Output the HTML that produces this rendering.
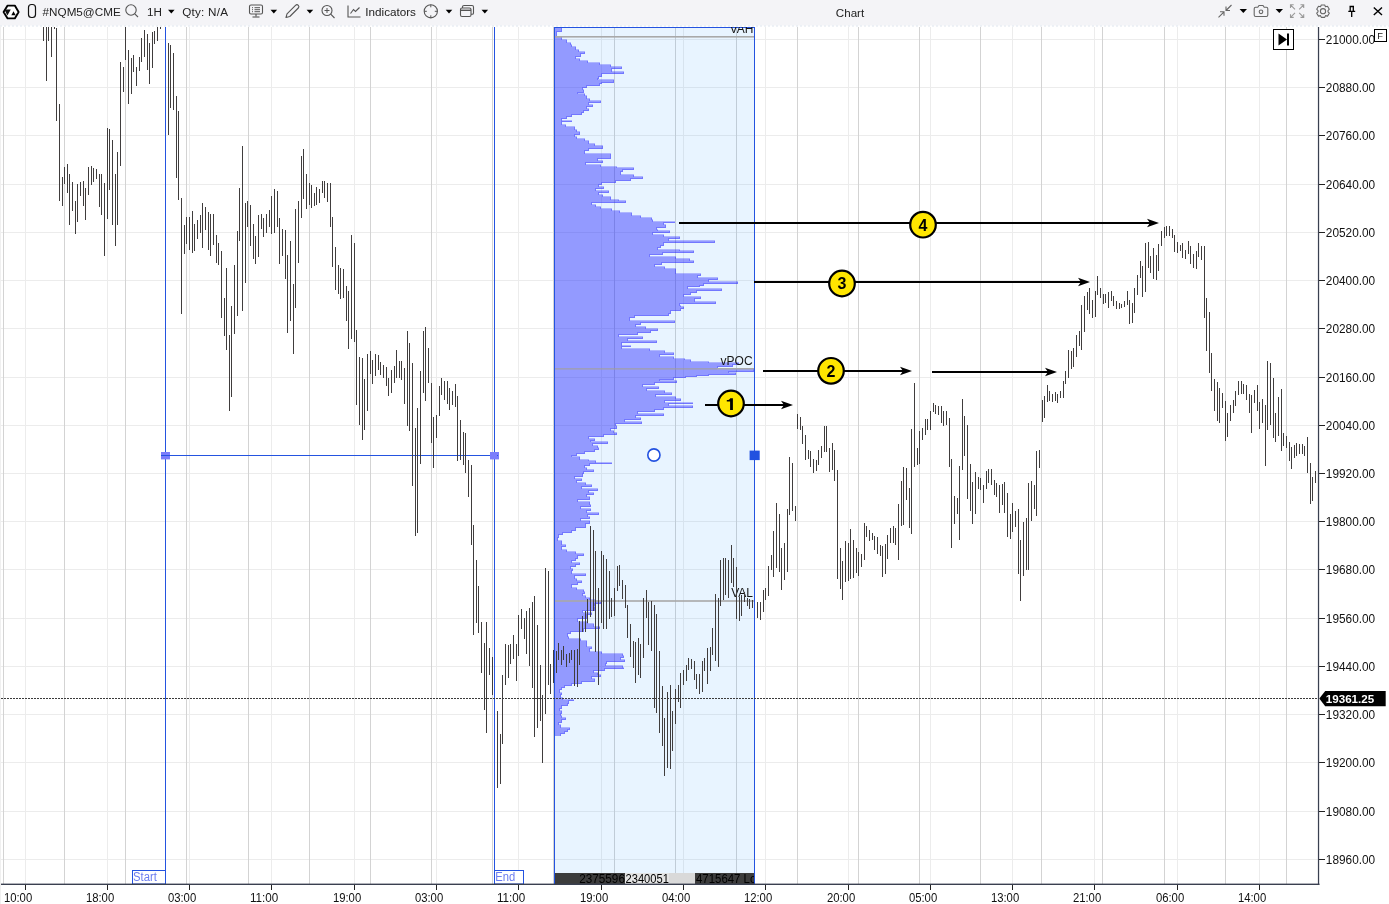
<!DOCTYPE html>
<html><head><meta charset="utf-8"><title>Chart</title>
<style>
html,body{margin:0;padding:0;background:#fff;overflow:hidden}
body{width:1389px;height:904px;position:relative;font-family:"Liberation Sans",sans-serif}
</style></head><body>
<svg width="1389" height="904" viewBox="0 0 1389 904" style="position:absolute;left:0;top:0;will-change:transform;font-family:'Liberation Sans',sans-serif">
<rect x="0" y="0" width="1389" height="904" fill="#ffffff"/>
<rect x="0" y="0" width="1389" height="25.5" fill="#f4f4f7"/>
<line x1="0" y1="26" x2="1389" y2="26" stroke="#dfe6ee" stroke-width="1" stroke-dasharray="2 2"/>
<rect x="0" y="26" width="1" height="878" fill="#f0f0f0"/>
<g shape-rendering="crispEdges">
<rect x="1" y="39" width="1317" height="1" fill="#ececec"/>
<rect x="1" y="87" width="1317" height="1" fill="#ececec"/>
<rect x="1" y="135" width="1317" height="1" fill="#ececec"/>
<rect x="1" y="184" width="1317" height="1" fill="#ececec"/>
<rect x="1" y="232" width="1317" height="1" fill="#ececec"/>
<rect x="1" y="280" width="1317" height="1" fill="#ececec"/>
<rect x="1" y="328" width="1317" height="1" fill="#ececec"/>
<rect x="1" y="377" width="1317" height="1" fill="#ececec"/>
<rect x="1" y="425" width="1317" height="1" fill="#ececec"/>
<rect x="1" y="473" width="1317" height="1" fill="#ececec"/>
<rect x="1" y="521" width="1317" height="1" fill="#ececec"/>
<rect x="1" y="569" width="1317" height="1" fill="#ececec"/>
<rect x="1" y="618" width="1317" height="1" fill="#ececec"/>
<rect x="1" y="666" width="1317" height="1" fill="#ececec"/>
<rect x="1" y="714" width="1317" height="1" fill="#ececec"/>
<rect x="1" y="762" width="1317" height="1" fill="#ececec"/>
<rect x="1" y="811" width="1317" height="1" fill="#ececec"/>
<rect x="1" y="859" width="1317" height="1" fill="#ececec"/>
<rect x="25" y="27" width="1" height="857" fill="#ececec"/>
<rect x="107" y="27" width="1" height="857" fill="#ececec"/>
<rect x="189" y="27" width="1" height="857" fill="#ececec"/>
<rect x="271" y="27" width="1" height="857" fill="#ececec"/>
<rect x="354" y="27" width="1" height="857" fill="#ececec"/>
<rect x="436" y="27" width="1" height="857" fill="#ececec"/>
<rect x="518" y="27" width="1" height="857" fill="#ececec"/>
<rect x="601" y="27" width="1" height="857" fill="#ececec"/>
<rect x="683" y="27" width="1" height="857" fill="#ececec"/>
<rect x="765" y="27" width="1" height="857" fill="#ececec"/>
<rect x="848" y="27" width="1" height="857" fill="#ececec"/>
<rect x="930" y="27" width="1" height="857" fill="#ececec"/>
<rect x="1012" y="27" width="1" height="857" fill="#ececec"/>
<rect x="1094" y="27" width="1" height="857" fill="#ececec"/>
<rect x="1177" y="27" width="1" height="857" fill="#ececec"/>
<rect x="1259" y="27" width="1" height="857" fill="#ececec"/>
<rect x="3" y="27" width="1" height="857" fill="#d3d3d3"/>
<rect x="64" y="27" width="1" height="857" fill="#d3d3d3"/>
<rect x="125" y="27" width="1" height="857" fill="#d3d3d3"/>
<rect x="186" y="27" width="1" height="857" fill="#d3d3d3"/>
<rect x="248" y="27" width="1" height="857" fill="#d3d3d3"/>
<rect x="309" y="27" width="1" height="857" fill="#d3d3d3"/>
<rect x="370" y="27" width="1" height="857" fill="#d3d3d3"/>
<rect x="431" y="27" width="1" height="857" fill="#d3d3d3"/>
<rect x="492" y="27" width="1" height="857" fill="#d3d3d3"/>
<rect x="553" y="27" width="1" height="857" fill="#d3d3d3"/>
<rect x="614" y="27" width="1" height="857" fill="#d3d3d3"/>
<rect x="675" y="27" width="1" height="857" fill="#d3d3d3"/>
<rect x="736" y="27" width="1" height="857" fill="#d3d3d3"/>
<rect x="797" y="27" width="1" height="857" fill="#d3d3d3"/>
<rect x="858" y="27" width="1" height="857" fill="#d3d3d3"/>
<rect x="919" y="27" width="1" height="857" fill="#d3d3d3"/>
<rect x="980" y="27" width="1" height="857" fill="#d3d3d3"/>
<rect x="1041" y="27" width="1" height="857" fill="#d3d3d3"/>
<rect x="1102" y="27" width="1" height="857" fill="#d3d3d3"/>
<rect x="1164" y="27" width="1" height="857" fill="#d3d3d3"/>
<rect x="1225" y="27" width="1" height="857" fill="#d3d3d3"/>
<rect x="1286" y="27" width="1" height="857" fill="#d3d3d3"/>
</g>
<rect x="554" y="27" width="201" height="857" fill="rgba(30,144,255,0.10)"/>
<path d="M555,27.5 L562.4,27.5 L562.4,28.5 L562.4,28.5 L562.4,29.5 L562.4,29.5 L562.4,30.5 L562.4,30.5 L562.4,31.5 L557.4,31.5 L557.4,32.5 L557.4,32.5 L557.4,33.5 L557.4,33.5 L557.4,34.5 L557.4,34.5 L557.4,35.5 L557.4,35.5 L557.4,36.5 L561.6,36.5 L561.6,37.5 L561.6,37.5 L561.6,38.5 L561.6,38.5 L561.6,39.5 L567.4,39.5 L567.4,40.5 L567.4,40.5 L567.4,41.5 L567.4,41.5 L567.4,42.5 L570.7,42.5 L570.7,43.5 L570.7,43.5 L570.7,44.5 L571.5,44.5 L571.5,45.5 L571.5,45.5 L571.5,46.5 L575.7,46.5 L575.7,47.5 L575.7,47.5 L575.7,48.5 L575.7,48.5 L575.7,49.5 L579.0,49.5 L579.0,50.5 L579.0,50.5 L579.0,51.5 L584.8,51.5 L584.8,52.5 L584.8,52.5 L584.8,53.5 L580.7,53.5 L580.7,54.5 L580.7,54.5 L580.7,55.5 L580.7,55.5 L580.7,56.5 L575.7,56.5 L575.7,57.5 L575.7,57.5 L575.7,58.5 L579.8,58.5 L579.8,59.5 L579.8,59.5 L579.8,60.5 L588.0,60.5 L588.0,61.5 L588.0,61.5 L588.0,62.5 L599.8,62.5 L599.8,63.5 L599.8,63.5 L599.8,64.5 L611.4,64.5 L611.4,65.5 L611.4,65.5 L611.4,66.5 L621.7,66.5 L621.7,67.5 L621.7,67.5 L621.7,68.5 L612.2,68.5 L612.2,69.5 L612.2,69.5 L612.2,70.5 L612.2,70.5 L612.2,71.5 L623.8,71.5 L623.8,72.5 L623.8,72.5 L623.8,73.5 L602.3,73.5 L602.3,74.5 L602.3,74.5 L602.3,75.5 L602.3,75.5 L602.3,76.5 L598.9,76.5 L598.9,77.5 L598.9,77.5 L598.9,78.5 L598.0,78.5 L598.0,79.5 L613.5,79.5 L613.5,80.5 L613.5,80.5 L613.5,81.5 L613.5,81.5 L613.5,82.5 L602.0,82.5 L602.0,83.5 L600.0,83.5 L600.0,84.5 L600.0,84.5 L600.0,85.5 L587.3,85.5 L587.3,86.5 L587.3,86.5 L587.3,87.5 L583.0,87.5 L583.0,88.5 L583.0,88.5 L583.0,89.5 L584.0,89.5 L584.0,90.5 L584.0,90.5 L584.0,91.5 L584.0,91.5 L584.0,92.5 L578.0,92.5 L578.0,93.5 L584.8,93.5 L584.8,94.5 L584.8,94.5 L584.8,95.5 L586.5,95.5 L586.5,96.5 L586.5,96.5 L586.5,97.5 L586.5,97.5 L586.5,98.5 L589.8,98.5 L589.8,99.5 L589.8,99.5 L589.8,100.5 L600.6,100.5 L600.6,101.5 L600.6,101.5 L600.6,102.5 L589.0,102.5 L589.0,103.5 L589.0,103.5 L589.0,104.5 L592.8,104.5 L592.8,105.5 L592.8,105.5 L592.8,106.5 L586.5,106.5 L586.5,107.5 L586.5,107.5 L586.5,108.5 L588.5,108.5 L588.5,109.5 L588.5,109.5 L588.5,110.5 L584.0,110.5 L584.0,111.5 L584.0,111.5 L584.0,112.5 L582.0,112.5 L582.0,113.5 L582.0,113.5 L582.0,114.5 L572.4,114.5 L572.4,115.5 L572.4,115.5 L572.4,116.5 L566.6,116.5 L566.6,117.5 L566.6,117.5 L566.6,118.5 L561.6,118.5 L561.6,119.5 L561.6,119.5 L561.6,120.5 L572.4,120.5 L572.4,121.5 L561.6,121.5 L561.6,122.5 L561.6,122.5 L561.6,123.5 L561.6,123.5 L561.6,124.5 L565.7,124.5 L565.7,125.5 L565.7,125.5 L565.7,126.5 L574.9,126.5 L574.9,127.5 L574.9,127.5 L574.9,128.5 L574.9,128.5 L574.9,129.5 L577.4,129.5 L577.4,130.5 L577.4,130.5 L577.4,131.5 L579.5,131.5 L579.5,132.5 L579.5,132.5 L579.5,133.5 L579.5,133.5 L579.5,134.5 L574.9,134.5 L574.9,135.5 L574.9,135.5 L574.9,136.5 L577.4,136.5 L577.4,137.5 L577.4,137.5 L577.4,138.5 L584.8,138.5 L584.8,139.5 L584.8,139.5 L584.8,140.5 L589.0,140.5 L589.0,141.5 L589.0,141.5 L589.0,142.5 L589.0,142.5 L589.0,143.5 L594.8,143.5 L594.8,144.5 L594.8,144.5 L594.8,145.5 L602.6,145.5 L602.6,146.5 L602.6,146.5 L602.6,147.5 L602.6,147.5 L602.6,148.5 L589.0,148.5 L589.0,149.5 L589.0,149.5 L589.0,150.5 L584.8,150.5 L584.8,151.5 L584.8,151.5 L584.8,152.5 L584.8,152.5 L584.8,153.5 L610.5,153.5 L610.5,154.5 L610.5,154.5 L610.5,155.5 L611.4,155.5 L611.4,156.5 L611.4,156.5 L611.4,157.5 L611.4,157.5 L611.4,158.5 L598.0,158.5 L598.0,159.5 L598.0,159.5 L598.0,160.5 L603.0,160.5 L603.0,161.5 L603.0,161.5 L603.0,162.5 L585.7,162.5 L585.7,163.5 L585.7,163.5 L585.7,164.5 L601.4,164.5 L601.4,165.5 L601.4,165.5 L601.4,166.5 L617.2,166.5 L617.2,167.5 L633.8,167.5 L633.8,168.5 L633.8,168.5 L633.8,169.5 L623.0,169.5 L623.0,170.5 L623.0,170.5 L623.0,171.5 L620.5,171.5 L620.5,172.5 L620.5,172.5 L620.5,173.5 L620.5,173.5 L620.5,174.5 L633.8,174.5 L633.8,175.5 L633.8,175.5 L633.8,176.5 L642.9,176.5 L642.9,177.5 L642.9,177.5 L642.9,178.5 L631.3,178.5 L631.3,179.5 L631.3,179.5 L631.3,180.5 L616.4,180.5 L616.4,181.5 L616.4,181.5 L616.4,182.5 L602.3,182.5 L602.3,183.5 L602.3,183.5 L602.3,184.5 L598.9,184.5 L598.9,185.5 L598.9,185.5 L598.9,186.5 L603.9,186.5 L603.9,187.5 L603.9,187.5 L603.9,188.5 L596.4,188.5 L596.4,189.5 L596.4,189.5 L596.4,190.5 L608.9,190.5 L608.9,191.5 L608.9,191.5 L608.9,192.5 L598.9,192.5 L598.9,193.5 L598.9,193.5 L598.9,194.5 L603.0,194.5 L603.0,195.5 L603.0,195.5 L603.0,196.5 L611.4,196.5 L611.4,197.5 L611.4,197.5 L611.4,198.5 L611.4,198.5 L611.4,199.5 L618.8,199.5 L618.8,200.5 L625.8,200.5 L625.8,201.5 L625.8,201.5 L625.8,202.5 L592.0,202.5 L592.0,203.5 L592.0,203.5 L592.0,204.5 L596.4,204.5 L596.4,205.5 L596.4,205.5 L596.4,206.5 L601.4,206.5 L601.4,207.5 L601.4,207.5 L601.4,208.5 L612.2,208.5 L612.2,209.5 L612.2,209.5 L612.2,210.5 L619.7,210.5 L619.7,211.5 L619.7,211.5 L619.7,212.5 L632.1,212.5 L632.1,213.5 L632.1,213.5 L632.1,214.5 L632.1,214.5 L632.1,215.5 L641.2,215.5 L641.2,216.5 L641.2,216.5 L641.2,217.5 L652.0,217.5 L652.0,218.5 L652.0,218.5 L652.0,219.5 L652.9,219.5 L652.9,220.5 L652.9,220.5 L652.9,221.5 L674.8,221.5 L674.8,222.5 L663.6,222.5 L663.6,223.5 L663.6,223.5 L663.6,224.5 L666.1,224.5 L666.1,225.5 L666.1,225.5 L666.1,226.5 L666.1,226.5 L666.1,227.5 L657.0,227.5 L657.0,228.5 L657.0,228.5 L657.0,229.5 L657.8,229.5 L657.8,230.5 L669.8,230.5 L669.8,231.5 L669.8,231.5 L669.8,232.5 L652.9,232.5 L652.9,233.5 L652.9,233.5 L652.9,234.5 L663.6,234.5 L663.6,235.5 L663.6,235.5 L663.6,236.5 L679.7,236.5 L679.7,237.5 L679.7,237.5 L679.7,238.5 L668.6,238.5 L668.6,239.5 L668.6,239.5 L668.6,240.5 L714.8,240.5 L714.8,241.5 L714.8,241.5 L714.8,242.5 L663.6,242.5 L663.6,243.5 L663.6,243.5 L663.6,244.5 L663.6,244.5 L663.6,245.5 L661.2,245.5 L661.2,246.5 L661.2,246.5 L661.2,247.5 L657.8,247.5 L657.8,248.5 L657.8,248.5 L657.8,249.5 L680.2,249.5 L680.2,250.5 L693.9,250.5 L693.9,251.5 L693.9,251.5 L693.9,252.5 L662.8,252.5 L662.8,253.5 L662.8,253.5 L662.8,254.5 L650.0,254.5 L650.0,255.5 L650.0,255.5 L650.0,256.5 L676.1,256.5 L676.1,257.5 L676.1,257.5 L676.1,258.5 L690.2,258.5 L690.2,259.5 L690.2,259.5 L690.2,260.5 L693.9,260.5 L693.9,261.5 L693.9,261.5 L693.9,262.5 L662.0,262.5 L662.0,263.5 L662.0,263.5 L662.0,264.5 L655.0,264.5 L655.0,265.5 L655.0,265.5 L655.0,266.5 L664.5,266.5 L664.5,267.5 L664.5,267.5 L664.5,268.5 L675.6,268.5 L675.6,269.5 L675.6,269.5 L675.6,270.5 L675.6,270.5 L675.6,271.5 L676.1,271.5 L676.1,272.5 L676.1,272.5 L676.1,273.5 L700.7,273.5 L700.7,274.5 L700.7,274.5 L700.7,275.5 L697.7,275.5 L697.7,276.5 L697.7,276.5 L697.7,277.5 L717.6,277.5 L717.6,278.5 L717.6,278.5 L717.6,279.5 L708.5,279.5 L708.5,280.5 L708.5,280.5 L708.5,281.5 L737.5,281.5 L737.5,282.5 L737.5,282.5 L737.5,283.5 L703.5,283.5 L703.5,284.5 L703.5,284.5 L703.5,285.5 L700.2,285.5 L700.2,286.5 L688.0,286.5 L688.0,287.5 L688.0,287.5 L688.0,288.5 L721.7,288.5 L721.7,289.5 L721.7,289.5 L721.7,290.5 L696.8,290.5 L696.8,291.5 L696.8,291.5 L696.8,292.5 L691.0,292.5 L691.0,293.5 L691.0,293.5 L691.0,294.5 L684.0,294.5 L684.0,295.5 L684.0,295.5 L684.0,296.5 L700.7,296.5 L700.7,297.5 L700.7,297.5 L700.7,298.5 L695.2,298.5 L695.2,299.5 L695.2,299.5 L695.2,300.5 L695.2,300.5 L695.2,301.5 L715.6,301.5 L715.6,302.5 L715.6,302.5 L715.6,303.5 L680.0,303.5 L680.0,304.5 L680.0,304.5 L680.0,305.5 L681.0,305.5 L681.0,306.5 L683.6,306.5 L683.6,307.5 L683.6,307.5 L683.6,308.5 L680.5,308.5 L680.5,309.5 L680.5,309.5 L680.5,310.5 L671.1,310.5 L671.1,311.5 L671.1,311.5 L671.1,312.5 L671.1,312.5 L671.1,313.5 L668.6,313.5 L668.6,314.5 L668.6,314.5 L668.6,315.5 L635.4,315.5 L635.4,316.5 L635.4,316.5 L635.4,317.5 L630.0,317.5 L630.0,318.5 L630.0,318.5 L630.0,319.5 L630.0,319.5 L630.0,320.5 L674.8,320.5 L674.8,321.5 L674.8,321.5 L674.8,322.5 L641.3,322.5 L641.3,323.5 L641.3,323.5 L641.3,324.5 L636.0,324.5 L636.0,325.5 L636.0,325.5 L636.0,326.5 L646.2,326.5 L646.2,327.5 L646.2,327.5 L646.2,328.5 L657.8,328.5 L657.8,329.5 L657.8,329.5 L657.8,330.5 L651.2,330.5 L651.2,331.5 L651.2,331.5 L651.2,332.5 L638.0,332.5 L638.0,333.5 L638.0,333.5 L638.0,334.5 L618.8,334.5 L618.8,335.5 L618.8,335.5 L618.8,336.5 L642.9,336.5 L642.9,337.5 L642.9,337.5 L642.9,338.5 L628.0,338.5 L628.0,339.5 L628.0,339.5 L628.0,340.5 L656.5,340.5 L656.5,341.5 L656.5,341.5 L656.5,342.5 L622.0,342.5 L622.0,343.5 L622.0,343.5 L622.0,344.5 L622.0,344.5 L622.0,345.5 L630.5,345.5 L630.5,346.5 L622.2,346.5 L622.2,347.5 L622.2,347.5 L622.2,348.5 L649.5,348.5 L649.5,349.5 L649.5,349.5 L649.5,350.5 L664.5,350.5 L664.5,351.5 L664.5,351.5 L664.5,352.5 L673.6,352.5 L673.6,353.5 L673.6,353.5 L673.6,354.5 L660.0,354.5 L660.0,355.5 L660.0,355.5 L660.0,356.5 L674.4,356.5 L674.4,357.5 L674.4,357.5 L674.4,358.5 L685.0,358.5 L685.0,359.5 L691.0,359.5 L691.0,360.5 L691.0,360.5 L691.0,361.5 L709.0,361.5 L709.0,362.5 L739.0,362.5 L739.0,363.5 L739.0,363.5 L739.0,364.5 L733.0,364.5 L733.0,365.5 L733.0,365.5 L733.0,366.5 L717.5,366.5 L717.5,367.5 L717.5,367.5 L717.5,368.5 L754.0,368.5 L754.0,369.5 L754.0,369.5 L754.0,370.5 L754.0,370.5 L754.0,371.5 L729.0,371.5 L729.0,372.5 L735.8,372.5 L735.8,373.5 L735.8,373.5 L735.8,374.5 L709.0,374.5 L709.0,375.5 L697.0,375.5 L697.0,376.5 L686.0,376.5 L686.0,377.5 L674.4,377.5 L674.4,378.5 L674.4,378.5 L674.4,379.5 L659.5,379.5 L659.5,380.5 L676.6,380.5 L676.6,381.5 L676.6,381.5 L676.6,382.5 L655.0,382.5 L655.0,383.5 L655.0,383.5 L655.0,384.5 L642.9,384.5 L642.9,385.5 L642.9,385.5 L642.9,386.5 L658.7,386.5 L658.7,387.5 L658.7,387.5 L658.7,388.5 L647.0,388.5 L647.0,389.5 L647.0,389.5 L647.0,390.5 L664.5,390.5 L664.5,391.5 L664.5,391.5 L664.5,392.5 L672.0,392.5 L672.0,393.5 L672.0,393.5 L672.0,394.5 L656.2,394.5 L656.2,395.5 L656.2,395.5 L656.2,396.5 L676.1,396.5 L676.1,397.5 L676.1,397.5 L676.1,398.5 L680.7,398.5 L680.7,399.5 L680.7,399.5 L680.7,400.5 L664.5,400.5 L664.5,401.5 L664.5,401.5 L664.5,402.5 L692.7,402.5 L692.7,403.5 L668.6,403.5 L668.6,404.5 L668.6,404.5 L668.6,405.5 L692.7,405.5 L692.7,406.5 L692.7,406.5 L692.7,407.5 L663.6,407.5 L663.6,408.5 L663.6,408.5 L663.6,409.5 L655.4,409.5 L655.4,410.5 L655.4,410.5 L655.4,411.5 L638.0,411.5 L638.0,412.5 L638.0,412.5 L638.0,413.5 L663.6,413.5 L663.6,414.5 L663.6,414.5 L663.6,415.5 L636.0,415.5 L636.0,416.5 L636.0,416.5 L636.0,417.5 L641.3,417.5 L641.3,418.5 L641.3,418.5 L641.3,419.5 L624.7,419.5 L624.7,420.5 L624.7,420.5 L624.7,421.5 L641.6,421.5 L641.6,422.5 L641.6,422.5 L641.6,423.5 L616.4,423.5 L616.4,424.5 L616.4,424.5 L616.4,425.5 L616.7,425.5 L616.7,426.5 L616.7,426.5 L616.7,427.5 L616.7,427.5 L616.7,428.5 L610.5,428.5 L610.5,429.5 L610.5,429.5 L610.5,430.5 L613.9,430.5 L613.9,431.5 L613.9,431.5 L613.9,432.5 L616.7,432.5 L616.7,433.5 L616.7,433.5 L616.7,434.5 L603.9,434.5 L603.9,435.5 L603.9,435.5 L603.9,436.5 L589.0,436.5 L589.0,437.5 L589.0,437.5 L589.0,438.5 L594.8,438.5 L594.8,439.5 L594.8,439.5 L594.8,440.5 L590.6,440.5 L590.6,441.5 L607.7,441.5 L607.7,442.5 L607.7,442.5 L607.7,443.5 L593.1,443.5 L593.1,444.5 L593.1,444.5 L593.1,445.5 L597.8,445.5 L597.8,446.5 L597.8,446.5 L597.8,447.5 L598.9,447.5 L598.9,448.5 L598.9,448.5 L598.9,449.5 L594.8,449.5 L594.8,450.5 L594.8,450.5 L594.8,451.5 L584.8,451.5 L584.8,452.5 L584.8,452.5 L584.8,453.5 L576.5,453.5 L576.5,454.5 L576.5,454.5 L576.5,455.5 L572.4,455.5 L572.4,456.5 L579.8,456.5 L579.8,457.5 L579.8,457.5 L579.8,458.5 L579.8,458.5 L579.8,459.5 L589.0,459.5 L589.0,460.5 L595.6,460.5 L595.6,461.5 L595.6,461.5 L595.6,462.5 L611.9,462.5 L611.9,463.5 L589.8,463.5 L589.8,464.5 L589.8,464.5 L589.8,465.5 L584.8,465.5 L584.8,466.5 L584.8,466.5 L584.8,467.5 L586.5,467.5 L586.5,468.5 L586.5,468.5 L586.5,469.5 L594.0,469.5 L594.0,470.5 L594.0,470.5 L594.0,471.5 L584.0,471.5 L584.0,472.5 L584.0,472.5 L584.0,473.5 L583.2,473.5 L583.2,474.5 L583.2,474.5 L583.2,475.5 L583.2,475.5 L583.2,476.5 L574.9,476.5 L574.9,477.5 L574.9,477.5 L574.9,478.5 L581.5,478.5 L581.5,479.5 L581.5,479.5 L581.5,480.5 L576.5,480.5 L576.5,481.5 L576.5,481.5 L576.5,482.5 L585.7,482.5 L585.7,483.5 L585.7,483.5 L585.7,484.5 L591.5,484.5 L591.5,485.5 L591.5,485.5 L591.5,486.5 L581.5,486.5 L581.5,487.5 L581.5,487.5 L581.5,488.5 L597.8,488.5 L597.8,489.5 L597.8,489.5 L597.8,490.5 L589.0,490.5 L589.0,491.5 L589.0,491.5 L589.0,492.5 L594.0,492.5 L594.0,493.5 L594.0,493.5 L594.0,494.5 L587.3,494.5 L587.3,495.5 L587.3,495.5 L587.3,496.5 L589.8,496.5 L589.8,497.5 L589.8,497.5 L589.8,498.5 L589.8,498.5 L589.8,499.5 L578.2,499.5 L578.2,500.5 L578.2,500.5 L578.2,501.5 L589.8,501.5 L589.8,502.5 L589.8,502.5 L589.8,503.5 L589.8,503.5 L589.8,504.5 L590.6,504.5 L590.6,505.5 L590.6,505.5 L590.6,506.5 L580.7,506.5 L580.7,507.5 L580.7,507.5 L580.7,508.5 L590.6,508.5 L590.6,509.5 L590.6,509.5 L590.6,510.5 L586.5,510.5 L586.5,511.5 L586.5,511.5 L586.5,512.5 L598.9,512.5 L598.9,513.5 L598.9,513.5 L598.9,514.5 L588.1,514.5 L588.1,515.5 L588.1,515.5 L588.1,516.5 L589.8,516.5 L589.8,517.5 L589.8,517.5 L589.8,518.5 L580.7,518.5 L580.7,519.5 L580.7,519.5 L580.7,520.5 L589.8,520.5 L589.8,521.5 L589.8,521.5 L589.8,522.5 L589.8,522.5 L589.8,523.5 L585.7,523.5 L585.7,524.5 L585.7,524.5 L585.7,525.5 L585.7,525.5 L585.7,526.5 L585.7,526.5 L585.7,527.5 L575.7,527.5 L575.7,528.5 L575.7,528.5 L575.7,529.5 L575.7,529.5 L575.7,530.5 L571.5,530.5 L571.5,531.5 L571.5,531.5 L571.5,532.5 L563.3,532.5 L563.3,533.5 L563.3,533.5 L563.3,534.5 L559.1,534.5 L559.1,535.5 L559.1,535.5 L559.1,536.5 L559.1,536.5 L559.1,537.5 L558.3,537.5 L558.3,538.5 L558.3,538.5 L558.3,539.5 L558.3,539.5 L558.3,540.5 L561.6,540.5 L561.6,541.5 L561.6,541.5 L561.6,542.5 L562.4,542.5 L562.4,543.5 L562.4,543.5 L562.4,544.5 L565.7,544.5 L565.7,545.5 L565.7,545.5 L565.7,546.5 L562.4,546.5 L562.4,547.5 L562.4,547.5 L562.4,548.5 L562.4,548.5 L562.4,549.5 L566.6,549.5 L566.6,550.5 L566.6,550.5 L566.6,551.5 L575.7,551.5 L575.7,552.5 L575.7,552.5 L575.7,553.5 L584.0,553.5 L584.0,554.5 L584.0,554.5 L584.0,555.5 L578.2,555.5 L578.2,556.5 L578.2,556.5 L578.2,557.5 L578.2,557.5 L578.2,558.5 L575.7,558.5 L575.7,559.5 L575.7,559.5 L575.7,560.5 L571.5,560.5 L571.5,561.5 L571.5,561.5 L571.5,562.5 L579.8,562.5 L579.8,563.5 L579.8,563.5 L579.8,564.5 L575.7,564.5 L575.7,565.5 L575.7,565.5 L575.7,566.5 L570.7,566.5 L570.7,567.5 L570.7,567.5 L570.7,568.5 L573.2,568.5 L573.2,569.5 L573.2,569.5 L573.2,570.5 L571.5,570.5 L571.5,571.5 L571.5,571.5 L571.5,572.5 L571.5,572.5 L571.5,573.5 L585.7,573.5 L585.7,574.5 L585.7,574.5 L585.7,575.5 L574.9,575.5 L574.9,576.5 L574.9,576.5 L574.9,577.5 L574.9,577.5 L574.9,578.5 L577.4,578.5 L577.4,579.5 L577.4,579.5 L577.4,580.5 L581.5,580.5 L581.5,581.5 L581.5,581.5 L581.5,582.5 L578.2,582.5 L578.2,583.5 L578.2,583.5 L578.2,584.5 L571.5,584.5 L571.5,585.5 L571.5,585.5 L571.5,586.5 L571.5,586.5 L571.5,587.5 L577.4,587.5 L577.4,588.5 L577.4,588.5 L577.4,589.5 L584.0,589.5 L584.0,590.5 L584.0,590.5 L584.0,591.5 L584.8,591.5 L584.8,592.5 L584.8,592.5 L584.8,593.5 L583.2,593.5 L583.2,594.5 L583.2,594.5 L583.2,595.5 L585.7,595.5 L585.7,596.5 L585.7,596.5 L585.7,597.5 L589.8,597.5 L589.8,598.5 L589.8,598.5 L589.8,599.5 L596.0,599.5 L596.0,600.5 L596.0,600.5 L596.0,601.5 L601.4,601.5 L601.4,602.5 L601.4,602.5 L601.4,603.5 L594.8,603.5 L594.8,604.5 L594.8,604.5 L594.8,605.5 L596.4,605.5 L596.4,606.5 L596.4,606.5 L596.4,607.5 L594.8,607.5 L594.8,608.5 L594.8,608.5 L594.8,609.5 L594.8,609.5 L594.8,610.5 L583.2,610.5 L583.2,611.5 L583.2,611.5 L583.2,612.5 L592.3,612.5 L592.3,613.5 L592.3,613.5 L592.3,614.5 L586.5,614.5 L586.5,615.5 L586.5,615.5 L586.5,616.5 L587.3,616.5 L587.3,617.5 L587.3,617.5 L587.3,618.5 L578.2,618.5 L578.2,619.5 L578.2,619.5 L578.2,620.5 L578.2,620.5 L578.2,621.5 L588.1,621.5 L588.1,622.5 L588.1,622.5 L588.1,623.5 L594.0,623.5 L594.0,624.5 L594.0,624.5 L594.0,625.5 L594.0,625.5 L594.0,626.5 L599.8,626.5 L599.8,627.5 L599.8,627.5 L599.8,628.5 L584.0,628.5 L584.0,629.5 L584.0,629.5 L584.0,630.5 L584.0,630.5 L584.0,631.5 L570.7,631.5 L570.7,632.5 L570.7,632.5 L570.7,633.5 L568.2,633.5 L568.2,634.5 L568.2,634.5 L568.2,635.5 L568.2,635.5 L568.2,636.5 L569.0,636.5 L569.0,637.5 L569.0,637.5 L569.0,638.5 L580.7,638.5 L580.7,639.5 L580.7,639.5 L580.7,640.5 L586.5,640.5 L586.5,641.5 L586.5,641.5 L586.5,642.5 L586.5,642.5 L586.5,643.5 L587.3,643.5 L587.3,644.5 L587.3,644.5 L587.3,645.5 L587.3,645.5 L587.3,646.5 L592.3,646.5 L592.3,647.5 L592.3,647.5 L592.3,648.5 L590.0,648.5 L590.0,649.5 L590.0,649.5 L590.0,650.5 L590.0,650.5 L590.0,651.5 L602.3,651.5 L602.3,652.5 L602.3,652.5 L602.3,653.5 L623.0,653.5 L623.0,654.5 L623.0,654.5 L623.0,655.5 L623.8,655.5 L623.8,656.5 L623.8,656.5 L623.8,657.5 L621.3,657.5 L621.3,658.5 L621.3,658.5 L621.3,659.5 L624.7,659.5 L624.7,660.5 L624.7,660.5 L624.7,661.5 L607.2,661.5 L607.2,662.5 L607.2,662.5 L607.2,663.5 L605.6,663.5 L605.6,664.5 L605.6,664.5 L605.6,665.5 L623.0,665.5 L623.0,666.5 L623.0,666.5 L623.0,667.5 L623.8,667.5 L623.8,668.5 L604.7,668.5 L604.7,669.5 L604.7,669.5 L604.7,670.5 L594.0,670.5 L594.0,671.5 L594.0,671.5 L594.0,672.5 L598.1,672.5 L598.1,673.5 L598.1,673.5 L598.1,674.5 L600.6,674.5 L600.6,675.5 L600.6,675.5 L600.6,676.5 L591.5,676.5 L591.5,677.5 L591.5,677.5 L591.5,678.5 L594.8,678.5 L594.8,679.5 L594.8,679.5 L594.8,680.5 L594.8,680.5 L594.8,681.5 L582.3,681.5 L582.3,682.5 L582.3,682.5 L582.3,683.5 L572.4,683.5 L572.4,684.5 L572.4,684.5 L572.4,685.5 L564.9,685.5 L564.9,686.5 L564.9,686.5 L564.9,687.5 L561.6,687.5 L561.6,688.5 L561.6,688.5 L561.6,689.5 L559.9,689.5 L559.9,690.5 L559.9,690.5 L559.9,691.5 L559.9,691.5 L559.9,692.5 L562.4,692.5 L562.4,693.5 L562.4,693.5 L562.4,694.5 L560.8,694.5 L560.8,695.5 L560.8,695.5 L560.8,696.5 L560.8,696.5 L560.8,697.5 L563.3,697.5 L563.3,698.5 L563.3,698.5 L563.3,699.5 L574.0,699.5 L574.0,700.5 L569.1,700.5 L569.1,701.5 L569.1,701.5 L569.1,702.5 L569.1,702.5 L569.1,703.5 L568.2,703.5 L568.2,704.5 L568.2,704.5 L568.2,705.5 L561.6,705.5 L561.6,706.5 L561.6,706.5 L561.6,707.5 L561.6,707.5 L561.6,708.5 L559.9,708.5 L559.9,709.5 L559.9,709.5 L559.9,710.5 L561.6,710.5 L561.6,711.5 L561.6,711.5 L561.6,712.5 L561.6,712.5 L561.6,713.5 L560.8,713.5 L560.8,714.5 L560.8,714.5 L560.8,715.5 L562.4,715.5 L562.4,716.5 L562.4,716.5 L562.4,717.5 L565.7,717.5 L565.7,718.5 L565.7,718.5 L565.7,719.5 L561.6,719.5 L561.6,720.5 L561.6,720.5 L561.6,721.5 L561.6,721.5 L561.6,722.5 L559.1,722.5 L559.1,723.5 L559.1,723.5 L559.1,724.5 L560.8,724.5 L560.8,725.5 L560.8,725.5 L560.8,726.5 L560.8,726.5 L560.8,727.5 L569.9,727.5 L569.9,728.5 L569.9,728.5 L569.9,729.5 L568.2,729.5 L568.2,730.5 L568.2,730.5 L568.2,731.5 L564.9,731.5 L564.9,732.5 L564.9,732.5 L564.9,733.5 L560.5,733.5 L560.5,734.5 L560.5,734.5 L560.5,735.5 L555,735.5 Z" fill="rgba(20,20,255,0.40)" shape-rendering="crispEdges"/>
<path d="M562.4,27.5 L561.9,27.5 L561.9,28.5 L561.9,28.5 L561.9,29.5 L561.9,29.5 L561.9,30.5 L561.9,30.5 L561.9,31.5 L556.9,31.5 L556.9,32.5 L556.9,32.5 L556.9,33.5 L556.9,33.5 L556.9,34.5 L556.9,34.5 L556.9,35.5 L556.9,35.5 L556.9,36.5 L561.1,36.5 L561.1,37.5 L561.1,37.5 L561.1,38.5 L561.1,38.5 L561.1,39.5 L566.9,39.5 L566.9,40.5 L566.9,40.5 L566.9,41.5 L566.9,41.5 L566.9,42.5 L570.2,42.5 L570.2,43.5 L570.2,43.5 L570.2,44.5 L571.0,44.5 L571.0,45.5 L571.0,45.5 L571.0,46.5 L575.2,46.5 L575.2,47.5 L575.2,47.5 L575.2,48.5 L575.2,48.5 L575.2,49.5 L578.5,49.5 L578.5,50.5 L578.5,50.5 L578.5,51.5 L584.3,51.5 L584.3,52.5 L584.3,52.5 L584.3,53.5 L580.2,53.5 L580.2,54.5 L580.2,54.5 L580.2,55.5 L580.2,55.5 L580.2,56.5 L575.2,56.5 L575.2,57.5 L575.2,57.5 L575.2,58.5 L579.3,58.5 L579.3,59.5 L579.3,59.5 L579.3,60.5 L587.5,60.5 L587.5,61.5 L587.5,61.5 L587.5,62.5 L599.3,62.5 L599.3,63.5 L599.3,63.5 L599.3,64.5 L610.9,64.5 L610.9,65.5 L610.9,65.5 L610.9,66.5 L621.2,66.5 L621.2,67.5 L621.2,67.5 L621.2,68.5 L611.7,68.5 L611.7,69.5 L611.7,69.5 L611.7,70.5 L611.7,70.5 L611.7,71.5 L623.3,71.5 L623.3,72.5 L623.3,72.5 L623.3,73.5 L601.8,73.5 L601.8,74.5 L601.8,74.5 L601.8,75.5 L601.8,75.5 L601.8,76.5 L598.4,76.5 L598.4,77.5 L598.4,77.5 L598.4,78.5 L597.5,78.5 L597.5,79.5 L613.0,79.5 L613.0,80.5 L613.0,80.5 L613.0,81.5 L613.0,81.5 L613.0,82.5 L601.5,82.5 L601.5,83.5 L599.5,83.5 L599.5,84.5 L599.5,84.5 L599.5,85.5 L586.8,85.5 L586.8,86.5 L586.8,86.5 L586.8,87.5 L582.5,87.5 L582.5,88.5 L582.5,88.5 L582.5,89.5 L583.5,89.5 L583.5,90.5 L583.5,90.5 L583.5,91.5 L583.5,91.5 L583.5,92.5 L577.5,92.5 L577.5,93.5 L584.3,93.5 L584.3,94.5 L584.3,94.5 L584.3,95.5 L586.0,95.5 L586.0,96.5 L586.0,96.5 L586.0,97.5 L586.0,97.5 L586.0,98.5 L589.3,98.5 L589.3,99.5 L589.3,99.5 L589.3,100.5 L600.1,100.5 L600.1,101.5 L600.1,101.5 L600.1,102.5 L588.5,102.5 L588.5,103.5 L588.5,103.5 L588.5,104.5 L592.3,104.5 L592.3,105.5 L592.3,105.5 L592.3,106.5 L586.0,106.5 L586.0,107.5 L586.0,107.5 L586.0,108.5 L588.0,108.5 L588.0,109.5 L588.0,109.5 L588.0,110.5 L583.5,110.5 L583.5,111.5 L583.5,111.5 L583.5,112.5 L581.5,112.5 L581.5,113.5 L581.5,113.5 L581.5,114.5 L571.9,114.5 L571.9,115.5 L571.9,115.5 L571.9,116.5 L566.1,116.5 L566.1,117.5 L566.1,117.5 L566.1,118.5 L561.1,118.5 L561.1,119.5 L561.1,119.5 L561.1,120.5 L571.9,120.5 L571.9,121.5 L561.1,121.5 L561.1,122.5 L561.1,122.5 L561.1,123.5 L561.1,123.5 L561.1,124.5 L565.2,124.5 L565.2,125.5 L565.2,125.5 L565.2,126.5 L574.4,126.5 L574.4,127.5 L574.4,127.5 L574.4,128.5 L574.4,128.5 L574.4,129.5 L576.9,129.5 L576.9,130.5 L576.9,130.5 L576.9,131.5 L579.0,131.5 L579.0,132.5 L579.0,132.5 L579.0,133.5 L579.0,133.5 L579.0,134.5 L574.4,134.5 L574.4,135.5 L574.4,135.5 L574.4,136.5 L576.9,136.5 L576.9,137.5 L576.9,137.5 L576.9,138.5 L584.3,138.5 L584.3,139.5 L584.3,139.5 L584.3,140.5 L588.5,140.5 L588.5,141.5 L588.5,141.5 L588.5,142.5 L588.5,142.5 L588.5,143.5 L594.3,143.5 L594.3,144.5 L594.3,144.5 L594.3,145.5 L602.1,145.5 L602.1,146.5 L602.1,146.5 L602.1,147.5 L602.1,147.5 L602.1,148.5 L588.5,148.5 L588.5,149.5 L588.5,149.5 L588.5,150.5 L584.3,150.5 L584.3,151.5 L584.3,151.5 L584.3,152.5 L584.3,152.5 L584.3,153.5 L610.0,153.5 L610.0,154.5 L610.0,154.5 L610.0,155.5 L610.9,155.5 L610.9,156.5 L610.9,156.5 L610.9,157.5 L610.9,157.5 L610.9,158.5 L597.5,158.5 L597.5,159.5 L597.5,159.5 L597.5,160.5 L602.5,160.5 L602.5,161.5 L602.5,161.5 L602.5,162.5 L585.2,162.5 L585.2,163.5 L585.2,163.5 L585.2,164.5 L600.9,164.5 L600.9,165.5 L600.9,165.5 L600.9,166.5 L616.7,166.5 L616.7,167.5 L633.3,167.5 L633.3,168.5 L633.3,168.5 L633.3,169.5 L622.5,169.5 L622.5,170.5 L622.5,170.5 L622.5,171.5 L620.0,171.5 L620.0,172.5 L620.0,172.5 L620.0,173.5 L620.0,173.5 L620.0,174.5 L633.3,174.5 L633.3,175.5 L633.3,175.5 L633.3,176.5 L642.4,176.5 L642.4,177.5 L642.4,177.5 L642.4,178.5 L630.8,178.5 L630.8,179.5 L630.8,179.5 L630.8,180.5 L615.9,180.5 L615.9,181.5 L615.9,181.5 L615.9,182.5 L601.8,182.5 L601.8,183.5 L601.8,183.5 L601.8,184.5 L598.4,184.5 L598.4,185.5 L598.4,185.5 L598.4,186.5 L603.4,186.5 L603.4,187.5 L603.4,187.5 L603.4,188.5 L595.9,188.5 L595.9,189.5 L595.9,189.5 L595.9,190.5 L608.4,190.5 L608.4,191.5 L608.4,191.5 L608.4,192.5 L598.4,192.5 L598.4,193.5 L598.4,193.5 L598.4,194.5 L602.5,194.5 L602.5,195.5 L602.5,195.5 L602.5,196.5 L610.9,196.5 L610.9,197.5 L610.9,197.5 L610.9,198.5 L610.9,198.5 L610.9,199.5 L618.3,199.5 L618.3,200.5 L625.3,200.5 L625.3,201.5 L625.3,201.5 L625.3,202.5 L591.5,202.5 L591.5,203.5 L591.5,203.5 L591.5,204.5 L595.9,204.5 L595.9,205.5 L595.9,205.5 L595.9,206.5 L600.9,206.5 L600.9,207.5 L600.9,207.5 L600.9,208.5 L611.7,208.5 L611.7,209.5 L611.7,209.5 L611.7,210.5 L619.2,210.5 L619.2,211.5 L619.2,211.5 L619.2,212.5 L631.6,212.5 L631.6,213.5 L631.6,213.5 L631.6,214.5 L631.6,214.5 L631.6,215.5 L640.7,215.5 L640.7,216.5 L640.7,216.5 L640.7,217.5 L651.5,217.5 L651.5,218.5 L651.5,218.5 L651.5,219.5 L652.4,219.5 L652.4,220.5 L652.4,220.5 L652.4,221.5 L674.3,221.5 L674.3,222.5 L663.1,222.5 L663.1,223.5 L663.1,223.5 L663.1,224.5 L665.6,224.5 L665.6,225.5 L665.6,225.5 L665.6,226.5 L665.6,226.5 L665.6,227.5 L656.5,227.5 L656.5,228.5 L656.5,228.5 L656.5,229.5 L657.3,229.5 L657.3,230.5 L669.3,230.5 L669.3,231.5 L669.3,231.5 L669.3,232.5 L652.4,232.5 L652.4,233.5 L652.4,233.5 L652.4,234.5 L663.1,234.5 L663.1,235.5 L663.1,235.5 L663.1,236.5 L679.2,236.5 L679.2,237.5 L679.2,237.5 L679.2,238.5 L668.1,238.5 L668.1,239.5 L668.1,239.5 L668.1,240.5 L714.3,240.5 L714.3,241.5 L714.3,241.5 L714.3,242.5 L663.1,242.5 L663.1,243.5 L663.1,243.5 L663.1,244.5 L663.1,244.5 L663.1,245.5 L660.7,245.5 L660.7,246.5 L660.7,246.5 L660.7,247.5 L657.3,247.5 L657.3,248.5 L657.3,248.5 L657.3,249.5 L679.7,249.5 L679.7,250.5 L693.4,250.5 L693.4,251.5 L693.4,251.5 L693.4,252.5 L662.3,252.5 L662.3,253.5 L662.3,253.5 L662.3,254.5 L649.5,254.5 L649.5,255.5 L649.5,255.5 L649.5,256.5 L675.6,256.5 L675.6,257.5 L675.6,257.5 L675.6,258.5 L689.7,258.5 L689.7,259.5 L689.7,259.5 L689.7,260.5 L693.4,260.5 L693.4,261.5 L693.4,261.5 L693.4,262.5 L661.5,262.5 L661.5,263.5 L661.5,263.5 L661.5,264.5 L654.5,264.5 L654.5,265.5 L654.5,265.5 L654.5,266.5 L664.0,266.5 L664.0,267.5 L664.0,267.5 L664.0,268.5 L675.1,268.5 L675.1,269.5 L675.1,269.5 L675.1,270.5 L675.1,270.5 L675.1,271.5 L675.6,271.5 L675.6,272.5 L675.6,272.5 L675.6,273.5 L700.2,273.5 L700.2,274.5 L700.2,274.5 L700.2,275.5 L697.2,275.5 L697.2,276.5 L697.2,276.5 L697.2,277.5 L717.1,277.5 L717.1,278.5 L717.1,278.5 L717.1,279.5 L708.0,279.5 L708.0,280.5 L708.0,280.5 L708.0,281.5 L737.0,281.5 L737.0,282.5 L737.0,282.5 L737.0,283.5 L703.0,283.5 L703.0,284.5 L703.0,284.5 L703.0,285.5 L699.7,285.5 L699.7,286.5 L687.5,286.5 L687.5,287.5 L687.5,287.5 L687.5,288.5 L721.2,288.5 L721.2,289.5 L721.2,289.5 L721.2,290.5 L696.3,290.5 L696.3,291.5 L696.3,291.5 L696.3,292.5 L690.5,292.5 L690.5,293.5 L690.5,293.5 L690.5,294.5 L683.5,294.5 L683.5,295.5 L683.5,295.5 L683.5,296.5 L700.2,296.5 L700.2,297.5 L700.2,297.5 L700.2,298.5 L694.7,298.5 L694.7,299.5 L694.7,299.5 L694.7,300.5 L694.7,300.5 L694.7,301.5 L715.1,301.5 L715.1,302.5 L715.1,302.5 L715.1,303.5 L679.5,303.5 L679.5,304.5 L679.5,304.5 L679.5,305.5 L680.5,305.5 L680.5,306.5 L683.1,306.5 L683.1,307.5 L683.1,307.5 L683.1,308.5 L680.0,308.5 L680.0,309.5 L680.0,309.5 L680.0,310.5 L670.6,310.5 L670.6,311.5 L670.6,311.5 L670.6,312.5 L670.6,312.5 L670.6,313.5 L668.1,313.5 L668.1,314.5 L668.1,314.5 L668.1,315.5 L634.9,315.5 L634.9,316.5 L634.9,316.5 L634.9,317.5 L629.5,317.5 L629.5,318.5 L629.5,318.5 L629.5,319.5 L629.5,319.5 L629.5,320.5 L674.3,320.5 L674.3,321.5 L674.3,321.5 L674.3,322.5 L640.8,322.5 L640.8,323.5 L640.8,323.5 L640.8,324.5 L635.5,324.5 L635.5,325.5 L635.5,325.5 L635.5,326.5 L645.7,326.5 L645.7,327.5 L645.7,327.5 L645.7,328.5 L657.3,328.5 L657.3,329.5 L657.3,329.5 L657.3,330.5 L650.7,330.5 L650.7,331.5 L650.7,331.5 L650.7,332.5 L637.5,332.5 L637.5,333.5 L637.5,333.5 L637.5,334.5 L618.3,334.5 L618.3,335.5 L618.3,335.5 L618.3,336.5 L642.4,336.5 L642.4,337.5 L642.4,337.5 L642.4,338.5 L627.5,338.5 L627.5,339.5 L627.5,339.5 L627.5,340.5 L656.0,340.5 L656.0,341.5 L656.0,341.5 L656.0,342.5 L621.5,342.5 L621.5,343.5 L621.5,343.5 L621.5,344.5 L621.5,344.5 L621.5,345.5 L630.0,345.5 L630.0,346.5 L621.7,346.5 L621.7,347.5 L621.7,347.5 L621.7,348.5 L649.0,348.5 L649.0,349.5 L649.0,349.5 L649.0,350.5 L664.0,350.5 L664.0,351.5 L664.0,351.5 L664.0,352.5 L673.1,352.5 L673.1,353.5 L673.1,353.5 L673.1,354.5 L659.5,354.5 L659.5,355.5 L659.5,355.5 L659.5,356.5 L673.9,356.5 L673.9,357.5 L673.9,357.5 L673.9,358.5 L684.5,358.5 L684.5,359.5 L690.5,359.5 L690.5,360.5 L690.5,360.5 L690.5,361.5 L708.5,361.5 L708.5,362.5 L738.5,362.5 L738.5,363.5 L738.5,363.5 L738.5,364.5 L732.5,364.5 L732.5,365.5 L732.5,365.5 L732.5,366.5 L717.0,366.5 L717.0,367.5 L717.0,367.5 L717.0,368.5 L753.5,368.5 L753.5,369.5 L753.5,369.5 L753.5,370.5 L753.5,370.5 L753.5,371.5 L728.5,371.5 L728.5,372.5 L735.3,372.5 L735.3,373.5 L735.3,373.5 L735.3,374.5 L708.5,374.5 L708.5,375.5 L696.5,375.5 L696.5,376.5 L685.5,376.5 L685.5,377.5 L673.9,377.5 L673.9,378.5 L673.9,378.5 L673.9,379.5 L659.0,379.5 L659.0,380.5 L676.1,380.5 L676.1,381.5 L676.1,381.5 L676.1,382.5 L654.5,382.5 L654.5,383.5 L654.5,383.5 L654.5,384.5 L642.4,384.5 L642.4,385.5 L642.4,385.5 L642.4,386.5 L658.2,386.5 L658.2,387.5 L658.2,387.5 L658.2,388.5 L646.5,388.5 L646.5,389.5 L646.5,389.5 L646.5,390.5 L664.0,390.5 L664.0,391.5 L664.0,391.5 L664.0,392.5 L671.5,392.5 L671.5,393.5 L671.5,393.5 L671.5,394.5 L655.7,394.5 L655.7,395.5 L655.7,395.5 L655.7,396.5 L675.6,396.5 L675.6,397.5 L675.6,397.5 L675.6,398.5 L680.2,398.5 L680.2,399.5 L680.2,399.5 L680.2,400.5 L664.0,400.5 L664.0,401.5 L664.0,401.5 L664.0,402.5 L692.2,402.5 L692.2,403.5 L668.1,403.5 L668.1,404.5 L668.1,404.5 L668.1,405.5 L692.2,405.5 L692.2,406.5 L692.2,406.5 L692.2,407.5 L663.1,407.5 L663.1,408.5 L663.1,408.5 L663.1,409.5 L654.9,409.5 L654.9,410.5 L654.9,410.5 L654.9,411.5 L637.5,411.5 L637.5,412.5 L637.5,412.5 L637.5,413.5 L663.1,413.5 L663.1,414.5 L663.1,414.5 L663.1,415.5 L635.5,415.5 L635.5,416.5 L635.5,416.5 L635.5,417.5 L640.8,417.5 L640.8,418.5 L640.8,418.5 L640.8,419.5 L624.2,419.5 L624.2,420.5 L624.2,420.5 L624.2,421.5 L641.1,421.5 L641.1,422.5 L641.1,422.5 L641.1,423.5 L615.9,423.5 L615.9,424.5 L615.9,424.5 L615.9,425.5 L616.2,425.5 L616.2,426.5 L616.2,426.5 L616.2,427.5 L616.2,427.5 L616.2,428.5 L610.0,428.5 L610.0,429.5 L610.0,429.5 L610.0,430.5 L613.4,430.5 L613.4,431.5 L613.4,431.5 L613.4,432.5 L616.2,432.5 L616.2,433.5 L616.2,433.5 L616.2,434.5 L603.4,434.5 L603.4,435.5 L603.4,435.5 L603.4,436.5 L588.5,436.5 L588.5,437.5 L588.5,437.5 L588.5,438.5 L594.3,438.5 L594.3,439.5 L594.3,439.5 L594.3,440.5 L590.1,440.5 L590.1,441.5 L607.2,441.5 L607.2,442.5 L607.2,442.5 L607.2,443.5 L592.6,443.5 L592.6,444.5 L592.6,444.5 L592.6,445.5 L597.3,445.5 L597.3,446.5 L597.3,446.5 L597.3,447.5 L598.4,447.5 L598.4,448.5 L598.4,448.5 L598.4,449.5 L594.3,449.5 L594.3,450.5 L594.3,450.5 L594.3,451.5 L584.3,451.5 L584.3,452.5 L584.3,452.5 L584.3,453.5 L576.0,453.5 L576.0,454.5 L576.0,454.5 L576.0,455.5 L571.9,455.5 L571.9,456.5 L579.3,456.5 L579.3,457.5 L579.3,457.5 L579.3,458.5 L579.3,458.5 L579.3,459.5 L588.5,459.5 L588.5,460.5 L595.1,460.5 L595.1,461.5 L595.1,461.5 L595.1,462.5 L611.4,462.5 L611.4,463.5 L589.3,463.5 L589.3,464.5 L589.3,464.5 L589.3,465.5 L584.3,465.5 L584.3,466.5 L584.3,466.5 L584.3,467.5 L586.0,467.5 L586.0,468.5 L586.0,468.5 L586.0,469.5 L593.5,469.5 L593.5,470.5 L593.5,470.5 L593.5,471.5 L583.5,471.5 L583.5,472.5 L583.5,472.5 L583.5,473.5 L582.7,473.5 L582.7,474.5 L582.7,474.5 L582.7,475.5 L582.7,475.5 L582.7,476.5 L574.4,476.5 L574.4,477.5 L574.4,477.5 L574.4,478.5 L581.0,478.5 L581.0,479.5 L581.0,479.5 L581.0,480.5 L576.0,480.5 L576.0,481.5 L576.0,481.5 L576.0,482.5 L585.2,482.5 L585.2,483.5 L585.2,483.5 L585.2,484.5 L591.0,484.5 L591.0,485.5 L591.0,485.5 L591.0,486.5 L581.0,486.5 L581.0,487.5 L581.0,487.5 L581.0,488.5 L597.3,488.5 L597.3,489.5 L597.3,489.5 L597.3,490.5 L588.5,490.5 L588.5,491.5 L588.5,491.5 L588.5,492.5 L593.5,492.5 L593.5,493.5 L593.5,493.5 L593.5,494.5 L586.8,494.5 L586.8,495.5 L586.8,495.5 L586.8,496.5 L589.3,496.5 L589.3,497.5 L589.3,497.5 L589.3,498.5 L589.3,498.5 L589.3,499.5 L577.7,499.5 L577.7,500.5 L577.7,500.5 L577.7,501.5 L589.3,501.5 L589.3,502.5 L589.3,502.5 L589.3,503.5 L589.3,503.5 L589.3,504.5 L590.1,504.5 L590.1,505.5 L590.1,505.5 L590.1,506.5 L580.2,506.5 L580.2,507.5 L580.2,507.5 L580.2,508.5 L590.1,508.5 L590.1,509.5 L590.1,509.5 L590.1,510.5 L586.0,510.5 L586.0,511.5 L586.0,511.5 L586.0,512.5 L598.4,512.5 L598.4,513.5 L598.4,513.5 L598.4,514.5 L587.6,514.5 L587.6,515.5 L587.6,515.5 L587.6,516.5 L589.3,516.5 L589.3,517.5 L589.3,517.5 L589.3,518.5 L580.2,518.5 L580.2,519.5 L580.2,519.5 L580.2,520.5 L589.3,520.5 L589.3,521.5 L589.3,521.5 L589.3,522.5 L589.3,522.5 L589.3,523.5 L585.2,523.5 L585.2,524.5 L585.2,524.5 L585.2,525.5 L585.2,525.5 L585.2,526.5 L585.2,526.5 L585.2,527.5 L575.2,527.5 L575.2,528.5 L575.2,528.5 L575.2,529.5 L575.2,529.5 L575.2,530.5 L571.0,530.5 L571.0,531.5 L571.0,531.5 L571.0,532.5 L562.8,532.5 L562.8,533.5 L562.8,533.5 L562.8,534.5 L558.6,534.5 L558.6,535.5 L558.6,535.5 L558.6,536.5 L558.6,536.5 L558.6,537.5 L557.8,537.5 L557.8,538.5 L557.8,538.5 L557.8,539.5 L557.8,539.5 L557.8,540.5 L561.1,540.5 L561.1,541.5 L561.1,541.5 L561.1,542.5 L561.9,542.5 L561.9,543.5 L561.9,543.5 L561.9,544.5 L565.2,544.5 L565.2,545.5 L565.2,545.5 L565.2,546.5 L561.9,546.5 L561.9,547.5 L561.9,547.5 L561.9,548.5 L561.9,548.5 L561.9,549.5 L566.1,549.5 L566.1,550.5 L566.1,550.5 L566.1,551.5 L575.2,551.5 L575.2,552.5 L575.2,552.5 L575.2,553.5 L583.5,553.5 L583.5,554.5 L583.5,554.5 L583.5,555.5 L577.7,555.5 L577.7,556.5 L577.7,556.5 L577.7,557.5 L577.7,557.5 L577.7,558.5 L575.2,558.5 L575.2,559.5 L575.2,559.5 L575.2,560.5 L571.0,560.5 L571.0,561.5 L571.0,561.5 L571.0,562.5 L579.3,562.5 L579.3,563.5 L579.3,563.5 L579.3,564.5 L575.2,564.5 L575.2,565.5 L575.2,565.5 L575.2,566.5 L570.2,566.5 L570.2,567.5 L570.2,567.5 L570.2,568.5 L572.7,568.5 L572.7,569.5 L572.7,569.5 L572.7,570.5 L571.0,570.5 L571.0,571.5 L571.0,571.5 L571.0,572.5 L571.0,572.5 L571.0,573.5 L585.2,573.5 L585.2,574.5 L585.2,574.5 L585.2,575.5 L574.4,575.5 L574.4,576.5 L574.4,576.5 L574.4,577.5 L574.4,577.5 L574.4,578.5 L576.9,578.5 L576.9,579.5 L576.9,579.5 L576.9,580.5 L581.0,580.5 L581.0,581.5 L581.0,581.5 L581.0,582.5 L577.7,582.5 L577.7,583.5 L577.7,583.5 L577.7,584.5 L571.0,584.5 L571.0,585.5 L571.0,585.5 L571.0,586.5 L571.0,586.5 L571.0,587.5 L576.9,587.5 L576.9,588.5 L576.9,588.5 L576.9,589.5 L583.5,589.5 L583.5,590.5 L583.5,590.5 L583.5,591.5 L584.3,591.5 L584.3,592.5 L584.3,592.5 L584.3,593.5 L582.7,593.5 L582.7,594.5 L582.7,594.5 L582.7,595.5 L585.2,595.5 L585.2,596.5 L585.2,596.5 L585.2,597.5 L589.3,597.5 L589.3,598.5 L589.3,598.5 L589.3,599.5 L595.5,599.5 L595.5,600.5 L595.5,600.5 L595.5,601.5 L600.9,601.5 L600.9,602.5 L600.9,602.5 L600.9,603.5 L594.3,603.5 L594.3,604.5 L594.3,604.5 L594.3,605.5 L595.9,605.5 L595.9,606.5 L595.9,606.5 L595.9,607.5 L594.3,607.5 L594.3,608.5 L594.3,608.5 L594.3,609.5 L594.3,609.5 L594.3,610.5 L582.7,610.5 L582.7,611.5 L582.7,611.5 L582.7,612.5 L591.8,612.5 L591.8,613.5 L591.8,613.5 L591.8,614.5 L586.0,614.5 L586.0,615.5 L586.0,615.5 L586.0,616.5 L586.8,616.5 L586.8,617.5 L586.8,617.5 L586.8,618.5 L577.7,618.5 L577.7,619.5 L577.7,619.5 L577.7,620.5 L577.7,620.5 L577.7,621.5 L587.6,621.5 L587.6,622.5 L587.6,622.5 L587.6,623.5 L593.5,623.5 L593.5,624.5 L593.5,624.5 L593.5,625.5 L593.5,625.5 L593.5,626.5 L599.3,626.5 L599.3,627.5 L599.3,627.5 L599.3,628.5 L583.5,628.5 L583.5,629.5 L583.5,629.5 L583.5,630.5 L583.5,630.5 L583.5,631.5 L570.2,631.5 L570.2,632.5 L570.2,632.5 L570.2,633.5 L567.7,633.5 L567.7,634.5 L567.7,634.5 L567.7,635.5 L567.7,635.5 L567.7,636.5 L568.5,636.5 L568.5,637.5 L568.5,637.5 L568.5,638.5 L580.2,638.5 L580.2,639.5 L580.2,639.5 L580.2,640.5 L586.0,640.5 L586.0,641.5 L586.0,641.5 L586.0,642.5 L586.0,642.5 L586.0,643.5 L586.8,643.5 L586.8,644.5 L586.8,644.5 L586.8,645.5 L586.8,645.5 L586.8,646.5 L591.8,646.5 L591.8,647.5 L591.8,647.5 L591.8,648.5 L589.5,648.5 L589.5,649.5 L589.5,649.5 L589.5,650.5 L589.5,650.5 L589.5,651.5 L601.8,651.5 L601.8,652.5 L601.8,652.5 L601.8,653.5 L622.5,653.5 L622.5,654.5 L622.5,654.5 L622.5,655.5 L623.3,655.5 L623.3,656.5 L623.3,656.5 L623.3,657.5 L620.8,657.5 L620.8,658.5 L620.8,658.5 L620.8,659.5 L624.2,659.5 L624.2,660.5 L624.2,660.5 L624.2,661.5 L606.7,661.5 L606.7,662.5 L606.7,662.5 L606.7,663.5 L605.1,663.5 L605.1,664.5 L605.1,664.5 L605.1,665.5 L622.5,665.5 L622.5,666.5 L622.5,666.5 L622.5,667.5 L623.3,667.5 L623.3,668.5 L604.2,668.5 L604.2,669.5 L604.2,669.5 L604.2,670.5 L593.5,670.5 L593.5,671.5 L593.5,671.5 L593.5,672.5 L597.6,672.5 L597.6,673.5 L597.6,673.5 L597.6,674.5 L600.1,674.5 L600.1,675.5 L600.1,675.5 L600.1,676.5 L591.0,676.5 L591.0,677.5 L591.0,677.5 L591.0,678.5 L594.3,678.5 L594.3,679.5 L594.3,679.5 L594.3,680.5 L594.3,680.5 L594.3,681.5 L581.8,681.5 L581.8,682.5 L581.8,682.5 L581.8,683.5 L571.9,683.5 L571.9,684.5 L571.9,684.5 L571.9,685.5 L564.4,685.5 L564.4,686.5 L564.4,686.5 L564.4,687.5 L561.1,687.5 L561.1,688.5 L561.1,688.5 L561.1,689.5 L559.4,689.5 L559.4,690.5 L559.4,690.5 L559.4,691.5 L559.4,691.5 L559.4,692.5 L561.9,692.5 L561.9,693.5 L561.9,693.5 L561.9,694.5 L560.3,694.5 L560.3,695.5 L560.3,695.5 L560.3,696.5 L560.3,696.5 L560.3,697.5 L562.8,697.5 L562.8,698.5 L562.8,698.5 L562.8,699.5 L573.5,699.5 L573.5,700.5 L568.6,700.5 L568.6,701.5 L568.6,701.5 L568.6,702.5 L568.6,702.5 L568.6,703.5 L567.7,703.5 L567.7,704.5 L567.7,704.5 L567.7,705.5 L561.1,705.5 L561.1,706.5 L561.1,706.5 L561.1,707.5 L561.1,707.5 L561.1,708.5 L559.4,708.5 L559.4,709.5 L559.4,709.5 L559.4,710.5 L561.1,710.5 L561.1,711.5 L561.1,711.5 L561.1,712.5 L561.1,712.5 L561.1,713.5 L560.3,713.5 L560.3,714.5 L560.3,714.5 L560.3,715.5 L561.9,715.5 L561.9,716.5 L561.9,716.5 L561.9,717.5 L565.2,717.5 L565.2,718.5 L565.2,718.5 L565.2,719.5 L561.1,719.5 L561.1,720.5 L561.1,720.5 L561.1,721.5 L561.1,721.5 L561.1,722.5 L558.6,722.5 L558.6,723.5 L558.6,723.5 L558.6,724.5 L560.3,724.5 L560.3,725.5 L560.3,725.5 L560.3,726.5 L560.3,726.5 L560.3,727.5 L569.4,727.5 L569.4,728.5 L569.4,728.5 L569.4,729.5 L567.7,729.5 L567.7,730.5 L567.7,730.5 L567.7,731.5 L564.4,731.5 L564.4,732.5 L564.4,732.5 L564.4,733.5 L560.0,733.5 L560.0,734.5 L560.0,734.5 L560.0,735.5 " fill="none" stroke="rgba(40,40,255,0.30)" stroke-width="1" shape-rendering="crispEdges"/>
<rect x="555" y="36" width="200" height="1.6" fill="#a9a9a9"/>
<rect x="555" y="600.2" width="200" height="1.6" fill="#a9a9a9"/>
<line x1="555" y1="368.8" x2="717" y2="368.8" stroke="#a39f96" stroke-width="1.2" opacity="0.85"/>
<line x1="717" y1="368.7" x2="754" y2="368.7" stroke="#a9a9a9" stroke-width="1.5"/>
<g shape-rendering="crispEdges">
<rect x="554" y="27" width="1" height="857" fill="#2453e0"/>
<rect x="754" y="27" width="1" height="857" fill="#2453e0"/>
<rect x="554" y="27" width="201" height="1" fill="#2453e0"/>
</g>
<g shape-rendering="crispEdges">
<rect x="555" y="872.5" width="70" height="11.5" fill="#3c3c3c"/>
<rect x="625" y="872.5" width="70" height="11.5" fill="#e4e4e4"/>
<rect x="669" y="872.5" width="26" height="11.5" fill="#d9d9d9"/>
<rect x="695" y="872.5" width="59" height="11.5" fill="#3c3c3c"/>
</g>
<clipPath id="cpb"><rect x="555" y="872" width="199" height="12"/></clipPath>
<g clip-path="url(#cpb)" font-size="12px" fill="#000">
<text x="579.3" y="883.2" textLength="45.6" lengthAdjust="spacingAndGlyphs">2375596</text>
<text x="625.5" y="883.2" textLength="43.4" lengthAdjust="spacingAndGlyphs">2340051</text>
<text x="696" y="883.2" textLength="60.3" lengthAdjust="spacingAndGlyphs">4715647 Lo</text>
</g>
<clipPath id="cpc"><rect x="1" y="27" width="1317" height="857"/></clipPath>
<g font-size="12px" fill="#161616" clip-path="url(#cpc)">
<text x="753.5" y="32.5" text-anchor="end">VAH</text>
<text x="752.6" y="364.5" text-anchor="end">vPOC</text>
<text x="753" y="597" text-anchor="end">VAL</text>
</g>
<g shape-rendering="crispEdges">
<rect x="165" y="27" width="1" height="857" fill="#2453e0"/>
<rect x="494" y="27" width="1" height="857" fill="#2453e0"/>
</g>
<rect x="161" y="452" width="9" height="7.4" fill="#7b7dfb"/>
<rect x="161" y="455" width="337" height="1" fill="#2453e0" shape-rendering="crispEdges"/>
<rect x="490" y="452" width="9" height="7.4" fill="#7b7dfb"/>
<rect x="497" y="455" width="1" height="1" fill="#2453e0"/>
<rect x="132.5" y="870.5" width="33" height="13.5" fill="#fff" stroke="#2453e0" stroke-width="1"/>
<rect x="494.5" y="870.5" width="29" height="13.5" fill="#fff" stroke="#2453e0" stroke-width="1"/>
<text x="133.1" y="880.9" font-size="12px" fill="#6a7cf0" textLength="23.8" lengthAdjust="spacingAndGlyphs">Start</text>
<text x="495.3" y="880.9" font-size="12px" fill="#6a7cf0" textLength="20" lengthAdjust="spacingAndGlyphs">End</text>
<rect x="749.6" y="450.6" width="10.1" height="9.5" fill="#2251e0"/>
<circle cx="653.9" cy="455" r="6.1" fill="#fff" stroke="#2251e0" stroke-width="1.6"/>
<g shape-rendering="crispEdges" fill="#403d3d">
<rect x="43" y="27.0" width="1" height="13.5"/>
<rect x="46" y="27.0" width="1" height="54.0"/>
<rect x="48" y="27.0" width="1" height="14.4"/>
<rect x="51" y="27.0" width="1" height="29.5"/>
<rect x="54" y="27.0" width="1" height="1.5"/>
<rect x="56" y="28.0" width="1" height="93.0"/>
<rect x="59" y="103.6" width="1" height="97.4"/>
<rect x="62" y="176.7" width="1" height="29.7"/>
<rect x="64" y="167.4" width="1" height="16.8"/>
<rect x="67" y="164.3" width="1" height="29.0"/>
<rect x="69" y="173.7" width="1" height="50.8"/>
<rect x="72" y="181.7" width="1" height="29.7"/>
<rect x="75" y="200.6" width="1" height="33.6"/>
<rect x="77" y="183.7" width="1" height="37.8"/>
<rect x="80" y="181.7" width="1" height="13.9"/>
<rect x="83" y="181.2" width="1" height="25.2"/>
<rect x="85" y="187.5" width="1" height="32.0"/>
<rect x="88" y="167.4" width="1" height="27.7"/>
<rect x="91" y="166.1" width="1" height="18.9"/>
<rect x="93" y="168.1" width="1" height="13.6"/>
<rect x="96" y="169.1" width="1" height="10.1"/>
<rect x="99" y="174.4" width="1" height="32.8"/>
<rect x="101" y="174.4" width="1" height="40.8"/>
<rect x="104" y="182.5" width="1" height="73.8"/>
<rect x="107" y="128.3" width="1" height="90.2"/>
<rect x="109" y="128.8" width="1" height="61.2"/>
<rect x="112" y="140.4" width="1" height="84.9"/>
<rect x="115" y="173.7" width="1" height="72.6"/>
<rect x="117" y="151.5" width="1" height="73.8"/>
<rect x="120" y="61.5" width="1" height="104.6"/>
<rect x="123" y="67.3" width="1" height="25.0"/>
<rect x="125" y="27.0" width="1" height="32.5"/>
<rect x="128" y="50.2" width="1" height="54.2"/>
<rect x="131" y="57.8" width="1" height="36.5"/>
<rect x="133" y="54.7" width="1" height="16.9"/>
<rect x="136" y="66.6" width="1" height="18.9"/>
<rect x="139" y="56.5" width="1" height="14.6"/>
<rect x="141" y="38.4" width="1" height="23.1"/>
<rect x="144" y="30.0" width="1" height="26.5"/>
<rect x="147" y="33.8" width="1" height="36.6"/>
<rect x="149" y="43.4" width="1" height="40.8"/>
<rect x="152" y="31.8" width="1" height="36.5"/>
<rect x="154" y="30.5" width="1" height="13.4"/>
<rect x="157" y="27.0" width="1" height="13.6"/>
<rect x="160" y="27.0" width="1" height="2.0"/>
<rect x="168" y="43.4" width="1" height="91.7"/>
<rect x="170" y="45.2" width="1" height="62.4"/>
<rect x="173" y="53.2" width="1" height="56.7"/>
<rect x="176" y="96.3" width="1" height="81.9"/>
<rect x="178" y="111.4" width="1" height="88.7"/>
<rect x="181" y="197.6" width="1" height="116.7"/>
<rect x="184" y="225.3" width="1" height="29.0"/>
<rect x="186" y="217.0" width="1" height="26.8"/>
<rect x="189" y="217.0" width="1" height="33.0"/>
<rect x="192" y="211.4" width="1" height="41.6"/>
<rect x="194" y="224.0" width="1" height="27.0"/>
<rect x="197" y="220.3" width="1" height="18.7"/>
<rect x="200" y="215.2" width="1" height="17.3"/>
<rect x="202" y="203.4" width="1" height="44.6"/>
<rect x="205" y="207.2" width="1" height="22.8"/>
<rect x="208" y="212.2" width="1" height="37.8"/>
<rect x="210" y="213.5" width="1" height="42.0"/>
<rect x="213" y="213.5" width="1" height="31.0"/>
<rect x="216" y="234.5" width="1" height="28.0"/>
<rect x="218" y="242.5" width="1" height="22.5"/>
<rect x="221" y="250.5" width="1" height="67.5"/>
<rect x="224" y="298.0" width="1" height="38.0"/>
<rect x="226" y="268.0" width="1" height="82.0"/>
<rect x="229" y="335.0" width="1" height="76.0"/>
<rect x="231" y="305.5" width="1" height="91.5"/>
<rect x="234" y="265.0" width="1" height="69.0"/>
<rect x="237" y="231.0" width="1" height="85.0"/>
<rect x="239" y="187.5" width="1" height="53.5"/>
<rect x="242" y="146.4" width="1" height="164.6"/>
<rect x="245" y="202.6" width="1" height="80.4"/>
<rect x="247" y="201.4" width="1" height="25.9"/>
<rect x="250" y="204.6" width="1" height="41.4"/>
<rect x="253" y="223.5" width="1" height="35.5"/>
<rect x="255" y="236.0" width="1" height="28.0"/>
<rect x="258" y="214.5" width="1" height="42.5"/>
<rect x="261" y="213.5" width="1" height="15.0"/>
<rect x="263" y="217.7" width="1" height="19.5"/>
<rect x="266" y="213.5" width="1" height="19.5"/>
<rect x="269" y="209.7" width="1" height="17.3"/>
<rect x="271" y="196.3" width="1" height="37.7"/>
<rect x="274" y="188.8" width="1" height="44.2"/>
<rect x="277" y="191.3" width="1" height="35.7"/>
<rect x="279" y="217.7" width="1" height="46.3"/>
<rect x="282" y="229.0" width="1" height="27.0"/>
<rect x="285" y="230.3" width="1" height="48.7"/>
<rect x="287" y="254.5" width="1" height="78.0"/>
<rect x="290" y="241.0" width="1" height="80.0"/>
<rect x="293" y="284.0" width="1" height="70.0"/>
<rect x="295" y="209.4" width="1" height="98.6"/>
<rect x="298" y="201.4" width="1" height="61.1"/>
<rect x="301" y="155.5" width="1" height="62.2"/>
<rect x="303" y="149.2" width="1" height="49.6"/>
<rect x="306" y="174.4" width="1" height="35.0"/>
<rect x="309" y="182.5" width="1" height="22.6"/>
<rect x="311" y="185.0" width="1" height="22.5"/>
<rect x="314" y="192.5" width="1" height="13.9"/>
<rect x="316" y="187.0" width="1" height="17.5"/>
<rect x="319" y="189.0" width="1" height="14.4"/>
<rect x="322" y="181.2" width="1" height="11.3"/>
<rect x="324" y="181.2" width="1" height="16.4"/>
<rect x="327" y="183.0" width="1" height="18.5"/>
<rect x="330" y="183.3" width="1" height="44.0"/>
<rect x="332" y="217.2" width="1" height="50.1"/>
<rect x="335" y="246.5" width="1" height="43.8"/>
<rect x="338" y="264.5" width="1" height="29.8"/>
<rect x="340" y="268.2" width="1" height="30.9"/>
<rect x="343" y="268.5" width="1" height="29.5"/>
<rect x="346" y="286.0" width="1" height="35.0"/>
<rect x="348" y="291.4" width="1" height="57.6"/>
<rect x="351" y="235.4" width="1" height="103.6"/>
<rect x="354" y="242.5" width="1" height="99.8"/>
<rect x="356" y="330.0" width="1" height="75.0"/>
<rect x="359" y="357.0" width="1" height="68.0"/>
<rect x="362" y="357.5" width="1" height="82.5"/>
<rect x="364" y="378.8" width="1" height="51.2"/>
<rect x="367" y="353.8" width="1" height="57.2"/>
<rect x="370" y="350.5" width="1" height="23.2"/>
<rect x="372" y="359.5" width="1" height="24.5"/>
<rect x="375" y="353.8" width="1" height="22.2"/>
<rect x="378" y="354.5" width="1" height="15.0"/>
<rect x="380" y="361.8" width="1" height="13.2"/>
<rect x="383" y="365.0" width="1" height="12.5"/>
<rect x="386" y="366.8" width="1" height="19.2"/>
<rect x="388" y="378.0" width="1" height="18.0"/>
<rect x="391" y="370.0" width="1" height="23.0"/>
<rect x="394" y="365.5" width="1" height="17.5"/>
<rect x="396" y="349.5" width="1" height="28.0"/>
<rect x="399" y="360.5" width="1" height="17.0"/>
<rect x="401" y="360.8" width="1" height="19.2"/>
<rect x="404" y="368.0" width="1" height="36.0"/>
<rect x="407" y="331.0" width="1" height="95.0"/>
<rect x="409" y="343.0" width="1" height="88.0"/>
<rect x="412" y="363.0" width="1" height="123.0"/>
<rect x="415" y="427.5" width="1" height="108.0"/>
<rect x="417" y="407.5" width="1" height="125.8"/>
<rect x="420" y="370.5" width="1" height="93.2"/>
<rect x="423" y="331.0" width="1" height="61.5"/>
<rect x="425" y="326.8" width="1" height="74.2"/>
<rect x="428" y="347.5" width="1" height="35.0"/>
<rect x="431" y="382.5" width="1" height="60.5"/>
<rect x="433" y="416.8" width="1" height="51.2"/>
<rect x="436" y="414.5" width="1" height="23.0"/>
<rect x="439" y="386.0" width="1" height="30.0"/>
<rect x="441" y="378.0" width="1" height="17.0"/>
<rect x="444" y="380.5" width="1" height="19.5"/>
<rect x="447" y="380.5" width="1" height="23.2"/>
<rect x="449" y="388.0" width="1" height="22.0"/>
<rect x="452" y="390.8" width="1" height="14.2"/>
<rect x="455" y="384.0" width="1" height="23.0"/>
<rect x="457" y="395.8" width="1" height="65.2"/>
<rect x="460" y="419.5" width="1" height="40.5"/>
<rect x="463" y="431.8" width="1" height="33.2"/>
<rect x="465" y="433.0" width="1" height="40.0"/>
<rect x="468" y="459.5" width="1" height="37.5"/>
<rect x="471" y="464.5" width="1" height="80.0"/>
<rect x="473" y="525.0" width="1" height="109.5"/>
<rect x="476" y="560.0" width="1" height="63.0"/>
<rect x="478" y="586.0" width="1" height="46.5"/>
<rect x="481" y="621.8" width="1" height="51.2"/>
<rect x="484" y="642.5" width="1" height="67.5"/>
<rect x="486" y="621.8" width="1" height="111.5"/>
<rect x="489" y="647.5" width="1" height="27.5"/>
<rect x="492" y="657.0" width="1" height="37.5"/>
<rect x="497" y="710.5" width="1" height="77.0"/>
<rect x="500" y="734.2" width="1" height="50.0"/>
<rect x="502" y="674.5" width="1" height="69.8"/>
<rect x="505" y="644.2" width="1" height="40.8"/>
<rect x="508" y="645.0" width="1" height="32.5"/>
<rect x="510" y="644.2" width="1" height="19.5"/>
<rect x="513" y="635.0" width="1" height="24.2"/>
<rect x="516" y="644.2" width="1" height="37.0"/>
<rect x="518" y="614.5" width="1" height="41.0"/>
<rect x="521" y="609.2" width="1" height="20.2"/>
<rect x="524" y="618.0" width="1" height="20.8"/>
<rect x="526" y="611.2" width="1" height="42.5"/>
<rect x="529" y="608.2" width="1" height="57.5"/>
<rect x="532" y="602.0" width="1" height="86.0"/>
<rect x="534" y="596.2" width="1" height="140.8"/>
<rect x="537" y="624.5" width="1" height="103.5"/>
<rect x="540" y="664.5" width="1" height="56.8"/>
<rect x="542" y="695.0" width="1" height="67.5"/>
<rect x="545" y="567.5" width="1" height="146.5"/>
<rect x="548" y="571.2" width="1" height="114.2"/>
<rect x="550" y="663.8" width="1" height="30.0"/>
<rect x="553" y="650.0" width="1" height="33.0"/>
<rect x="556" y="650.8" width="1" height="22.5"/>
<rect x="558" y="642.5" width="1" height="17.5"/>
<rect x="561" y="649.5" width="1" height="15.5"/>
<rect x="563" y="645.8" width="1" height="14.2"/>
<rect x="566" y="653.8" width="1" height="13.2"/>
<rect x="569" y="652.5" width="1" height="10.0"/>
<rect x="571" y="649.5" width="1" height="10.5"/>
<rect x="574" y="650.0" width="1" height="36.2"/>
<rect x="577" y="649.2" width="1" height="38.2"/>
<rect x="579" y="620.8" width="1" height="43.8"/>
<rect x="582" y="616.2" width="1" height="16.2"/>
<rect x="585" y="611.2" width="1" height="20.8"/>
<rect x="587" y="598.8" width="1" height="23.8"/>
<rect x="590" y="526.2" width="1" height="91.2"/>
<rect x="593" y="530.0" width="1" height="80.5"/>
<rect x="595" y="551.2" width="1" height="100.8"/>
<rect x="598" y="587.5" width="1" height="97.0"/>
<rect x="601" y="550.5" width="1" height="72.0"/>
<rect x="603" y="554.5" width="1" height="74.2"/>
<rect x="606" y="558.8" width="1" height="70.0"/>
<rect x="609" y="571.2" width="1" height="47.5"/>
<rect x="611" y="598.2" width="1" height="19.2"/>
<rect x="614" y="587.5" width="1" height="28.2"/>
<rect x="617" y="566.2" width="1" height="25.0"/>
<rect x="619" y="564.5" width="1" height="21.8"/>
<rect x="622" y="579.5" width="1" height="19.2"/>
<rect x="625" y="584.5" width="1" height="23.0"/>
<rect x="627" y="605.0" width="1" height="33.2"/>
<rect x="630" y="624.2" width="1" height="33.2"/>
<rect x="633" y="640.5" width="1" height="27.5"/>
<rect x="635" y="641.8" width="1" height="40.8"/>
<rect x="638" y="637.5" width="1" height="37.5"/>
<rect x="640" y="644.2" width="1" height="33.8"/>
<rect x="643" y="598.2" width="1" height="59.8"/>
<rect x="646" y="589.5" width="1" height="28.0"/>
<rect x="648" y="602.0" width="1" height="43.0"/>
<rect x="651" y="601.2" width="1" height="50.0"/>
<rect x="654" y="605.0" width="1" height="102.5"/>
<rect x="656" y="614.2" width="1" height="99.2"/>
<rect x="659" y="650.8" width="1" height="81.8"/>
<rect x="662" y="686.2" width="1" height="60.0"/>
<rect x="664" y="717.5" width="1" height="58.0"/>
<rect x="667" y="691.8" width="1" height="76.2"/>
<rect x="670" y="684.5" width="1" height="84.5"/>
<rect x="672" y="710.8" width="1" height="40.5"/>
<rect x="675" y="688.8" width="1" height="34.8"/>
<rect x="678" y="684.5" width="1" height="17.5"/>
<rect x="680" y="672.5" width="1" height="35.8"/>
<rect x="683" y="669.5" width="1" height="15.5"/>
<rect x="686" y="665.0" width="1" height="15.5"/>
<rect x="688" y="658.2" width="1" height="11.8"/>
<rect x="691" y="659.2" width="1" height="9.5"/>
<rect x="694" y="660.5" width="1" height="19.0"/>
<rect x="696" y="673.8" width="1" height="15.0"/>
<rect x="699" y="673.8" width="1" height="20.5"/>
<rect x="702" y="660.8" width="1" height="31.0"/>
<rect x="704" y="657.5" width="1" height="13.8"/>
<rect x="707" y="647.5" width="1" height="36.2"/>
<rect x="710" y="647.0" width="1" height="24.2"/>
<rect x="712" y="628.2" width="1" height="26.8"/>
<rect x="715" y="593.8" width="1" height="67.5"/>
<rect x="718" y="597.5" width="1" height="69.5"/>
<rect x="720" y="560.0" width="1" height="45.5"/>
<rect x="723" y="558.2" width="1" height="41.8"/>
<rect x="725" y="558.2" width="1" height="37.2"/>
<rect x="728" y="560.0" width="1" height="37.5"/>
<rect x="731" y="544.5" width="1" height="38.5"/>
<rect x="733" y="558.0" width="1" height="28.5"/>
<rect x="736" y="566.5" width="1" height="52.0"/>
<rect x="739" y="596.8" width="1" height="24.5"/>
<rect x="741" y="595.0" width="1" height="21.2"/>
<rect x="744" y="592.0" width="1" height="10.0"/>
<rect x="747" y="597.8" width="1" height="8.0"/>
<rect x="749" y="598.8" width="1" height="10.5"/>
<rect x="752" y="599.8" width="1" height="8.5"/>
<rect x="757" y="601.5" width="1" height="16.1"/>
<rect x="760" y="602.3" width="1" height="17.7"/>
<rect x="763" y="590.2" width="1" height="21.8"/>
<rect x="765" y="587.5" width="1" height="12.5"/>
<rect x="768" y="566.4" width="1" height="29.1"/>
<rect x="771" y="555.0" width="1" height="15.0"/>
<rect x="773" y="530.5" width="1" height="46.7"/>
<rect x="776" y="502.5" width="1" height="65.9"/>
<rect x="779" y="514.2" width="1" height="58.2"/>
<rect x="781" y="547.5" width="1" height="42.7"/>
<rect x="784" y="543.2" width="1" height="37.2"/>
<rect x="787" y="508.8" width="1" height="63.5"/>
<rect x="789" y="457.0" width="1" height="58.0"/>
<rect x="792" y="463.2" width="1" height="48.0"/>
<rect x="795" y="506.2" width="1" height="15.0"/>
<rect x="797" y="414.2" width="1" height="14.5"/>
<rect x="800" y="416.8" width="1" height="13.2"/>
<rect x="802" y="426.2" width="1" height="18.0"/>
<rect x="805" y="435.0" width="1" height="25.0"/>
<rect x="808" y="450.0" width="1" height="9.2"/>
<rect x="810" y="451.2" width="1" height="15.8"/>
<rect x="813" y="458.8" width="1" height="14.2"/>
<rect x="816" y="459.5" width="1" height="11.0"/>
<rect x="818" y="449.5" width="1" height="15.5"/>
<rect x="821" y="445.5" width="1" height="12.0"/>
<rect x="824" y="426.2" width="1" height="26.2"/>
<rect x="826" y="426.2" width="1" height="25.5"/>
<rect x="829" y="447.5" width="1" height="24.5"/>
<rect x="832" y="442.5" width="1" height="27.5"/>
<rect x="834" y="450.0" width="1" height="31.2"/>
<rect x="837" y="469.5" width="1" height="109.8"/>
<rect x="840" y="548.2" width="1" height="40.5"/>
<rect x="842" y="561.2" width="1" height="38.8"/>
<rect x="845" y="540.5" width="1" height="41.5"/>
<rect x="848" y="542.5" width="1" height="38.0"/>
<rect x="850" y="528.8" width="1" height="50.0"/>
<rect x="853" y="540.0" width="1" height="37.5"/>
<rect x="856" y="547.5" width="1" height="25.0"/>
<rect x="858" y="552.0" width="1" height="23.8"/>
<rect x="861" y="554.2" width="1" height="13.2"/>
<rect x="864" y="522.5" width="1" height="37.5"/>
<rect x="866" y="526.2" width="1" height="11.2"/>
<rect x="869" y="530.0" width="1" height="10.5"/>
<rect x="872" y="532.5" width="1" height="7.5"/>
<rect x="874" y="536.2" width="1" height="13.8"/>
<rect x="877" y="536.8" width="1" height="17.0"/>
<rect x="880" y="544.5" width="1" height="11.0"/>
<rect x="882" y="546.2" width="1" height="31.2"/>
<rect x="885" y="543.8" width="1" height="30.0"/>
<rect x="887" y="535.0" width="1" height="24.2"/>
<rect x="890" y="527.5" width="1" height="15.0"/>
<rect x="893" y="525.5" width="1" height="17.8"/>
<rect x="895" y="527.5" width="1" height="17.5"/>
<rect x="898" y="503.8" width="1" height="55.8"/>
<rect x="901" y="481.2" width="1" height="45.0"/>
<rect x="903" y="466.8" width="1" height="58.2"/>
<rect x="906" y="468.2" width="1" height="31.8"/>
<rect x="909" y="487.5" width="1" height="40.0"/>
<rect x="911" y="429.2" width="1" height="105.2"/>
<rect x="914" y="383.0" width="1" height="83.8"/>
<rect x="917" y="448.0" width="1" height="17.0"/>
<rect x="919" y="430.8" width="1" height="33.0"/>
<rect x="922" y="427.5" width="1" height="12.5"/>
<rect x="925" y="418.8" width="1" height="16.2"/>
<rect x="927" y="418.8" width="1" height="11.2"/>
<rect x="930" y="410.5" width="1" height="19.5"/>
<rect x="933" y="403.2" width="1" height="9.2"/>
<rect x="935" y="404.5" width="1" height="9.2"/>
<rect x="938" y="405.5" width="1" height="9.5"/>
<rect x="941" y="405.5" width="1" height="17.0"/>
<rect x="943" y="410.5" width="1" height="15.8"/>
<rect x="946" y="411.2" width="1" height="14.2"/>
<rect x="949" y="417.5" width="1" height="49.2"/>
<rect x="951" y="458.8" width="1" height="88.8"/>
<rect x="954" y="496.2" width="1" height="27.5"/>
<rect x="957" y="498.0" width="1" height="16.2"/>
<rect x="959" y="465.8" width="1" height="73.8"/>
<rect x="962" y="399.2" width="1" height="70.8"/>
<rect x="964" y="416.2" width="1" height="39.5"/>
<rect x="967" y="425.0" width="1" height="73.8"/>
<rect x="970" y="463.8" width="1" height="47.5"/>
<rect x="972" y="482.0" width="1" height="41.8"/>
<rect x="975" y="472.0" width="1" height="42.2"/>
<rect x="978" y="476.8" width="1" height="12.0"/>
<rect x="980" y="477.5" width="1" height="12.5"/>
<rect x="983" y="485.0" width="1" height="17.5"/>
<rect x="986" y="470.5" width="1" height="18.8"/>
<rect x="988" y="468.8" width="1" height="13.8"/>
<rect x="991" y="468.8" width="1" height="16.2"/>
<rect x="994" y="479.5" width="1" height="15.5"/>
<rect x="996" y="483.2" width="1" height="14.2"/>
<rect x="999" y="485.0" width="1" height="27.5"/>
<rect x="1002" y="483.8" width="1" height="20.8"/>
<rect x="1004" y="482.0" width="1" height="30.5"/>
<rect x="1007" y="492.5" width="1" height="44.2"/>
<rect x="1010" y="513.8" width="1" height="25.0"/>
<rect x="1012" y="503.2" width="1" height="29.2"/>
<rect x="1015" y="511.2" width="1" height="15.8"/>
<rect x="1018" y="509.2" width="1" height="65.2"/>
<rect x="1020" y="540.0" width="1" height="61.2"/>
<rect x="1023" y="522.0" width="1" height="54.2"/>
<rect x="1026" y="517.5" width="1" height="52.5"/>
<rect x="1028" y="482.5" width="1" height="87.0"/>
<rect x="1031" y="481.2" width="1" height="40.0"/>
<rect x="1034" y="485.0" width="1" height="23.8"/>
<rect x="1036" y="451.2" width="1" height="65.0"/>
<rect x="1039" y="450.0" width="1" height="18.2"/>
<rect x="1042" y="400.0" width="1" height="21.5"/>
<rect x="1044" y="395.8" width="1" height="22.5"/>
<rect x="1047" y="385.0" width="1" height="16.5"/>
<rect x="1049" y="390.5" width="1" height="10.0"/>
<rect x="1052" y="393.8" width="1" height="8.2"/>
<rect x="1055" y="392.0" width="1" height="8.5"/>
<rect x="1057" y="394.0" width="1" height="8.5"/>
<rect x="1060" y="390.5" width="1" height="7.5"/>
<rect x="1063" y="380.8" width="1" height="16.8"/>
<rect x="1065" y="371.2" width="1" height="13.0"/>
<rect x="1068" y="350.0" width="1" height="27.5"/>
<rect x="1071" y="351.2" width="1" height="18.0"/>
<rect x="1073" y="348.2" width="1" height="18.8"/>
<rect x="1076" y="335.0" width="1" height="21.8"/>
<rect x="1079" y="330.5" width="1" height="15.8"/>
<rect x="1081" y="305.0" width="1" height="44.5"/>
<rect x="1084" y="296.2" width="1" height="35.5"/>
<rect x="1087" y="292.0" width="1" height="18.0"/>
<rect x="1089" y="288.2" width="1" height="25.5"/>
<rect x="1092" y="300.0" width="1" height="17.5"/>
<rect x="1095" y="291.2" width="1" height="26.2"/>
<rect x="1097" y="276.2" width="1" height="18.8"/>
<rect x="1100" y="288.0" width="1" height="9.5"/>
<rect x="1103" y="293.8" width="1" height="10.0"/>
<rect x="1105" y="293.8" width="1" height="9.5"/>
<rect x="1108" y="291.8" width="1" height="15.8"/>
<rect x="1111" y="290.5" width="1" height="10.8"/>
<rect x="1113" y="296.2" width="1" height="10.0"/>
<rect x="1116" y="300.5" width="1" height="8.2"/>
<rect x="1119" y="303.2" width="1" height="6.0"/>
<rect x="1121" y="304.2" width="1" height="4.0"/>
<rect x="1124" y="300.8" width="1" height="6.2"/>
<rect x="1127" y="291.2" width="1" height="13.8"/>
<rect x="1129" y="300.0" width="1" height="23.8"/>
<rect x="1132" y="302.5" width="1" height="20.0"/>
<rect x="1134" y="287.5" width="1" height="25.5"/>
<rect x="1137" y="274.5" width="1" height="20.5"/>
<rect x="1140" y="261.2" width="1" height="17.0"/>
<rect x="1142" y="266.2" width="1" height="30.5"/>
<rect x="1145" y="243.2" width="1" height="49.2"/>
<rect x="1148" y="242.0" width="1" height="26.2"/>
<rect x="1150" y="255.5" width="1" height="17.0"/>
<rect x="1153" y="248.0" width="1" height="31.2"/>
<rect x="1156" y="255.0" width="1" height="24.5"/>
<rect x="1158" y="243.8" width="1" height="27.0"/>
<rect x="1161" y="231.2" width="1" height="14.5"/>
<rect x="1164" y="227.0" width="1" height="11.0"/>
<rect x="1166" y="226.2" width="1" height="10.0"/>
<rect x="1169" y="225.5" width="1" height="10.2"/>
<rect x="1172" y="228.8" width="1" height="8.8"/>
<rect x="1174" y="235.0" width="1" height="16.8"/>
<rect x="1177" y="242.0" width="1" height="10.5"/>
<rect x="1180" y="245.0" width="1" height="6.2"/>
<rect x="1182" y="242.5" width="1" height="15.0"/>
<rect x="1185" y="250.0" width="1" height="8.8"/>
<rect x="1188" y="241.2" width="1" height="13.2"/>
<rect x="1190" y="246.2" width="1" height="17.5"/>
<rect x="1193" y="253.8" width="1" height="13.8"/>
<rect x="1196" y="251.2" width="1" height="17.5"/>
<rect x="1198" y="243.2" width="1" height="14.2"/>
<rect x="1201" y="245.8" width="1" height="14.2"/>
<rect x="1204" y="245.8" width="1" height="72.5"/>
<rect x="1206" y="298.0" width="1" height="52.5"/>
<rect x="1209" y="312.0" width="1" height="60.5"/>
<rect x="1211" y="353.2" width="1" height="38.0"/>
<rect x="1214" y="378.8" width="1" height="31.8"/>
<rect x="1217" y="382.3" width="1" height="38.7"/>
<rect x="1219" y="387.7" width="1" height="35.5"/>
<rect x="1222" y="392.5" width="1" height="15.9"/>
<rect x="1225" y="401.3" width="1" height="39.2"/>
<rect x="1227" y="413.2" width="1" height="23.6"/>
<rect x="1230" y="404.5" width="1" height="16.5"/>
<rect x="1233" y="400.2" width="1" height="12.8"/>
<rect x="1235" y="391.4" width="1" height="15.0"/>
<rect x="1238" y="381.4" width="1" height="14.0"/>
<rect x="1241" y="381.4" width="1" height="12.1"/>
<rect x="1243" y="383.5" width="1" height="10.5"/>
<rect x="1246" y="384.6" width="1" height="15.4"/>
<rect x="1249" y="393.9" width="1" height="18.8"/>
<rect x="1251" y="395.4" width="1" height="37.7"/>
<rect x="1254" y="389.5" width="1" height="13.0"/>
<rect x="1257" y="385.2" width="1" height="25.8"/>
<rect x="1259" y="402.0" width="1" height="27.2"/>
<rect x="1262" y="399.3" width="1" height="23.4"/>
<rect x="1265" y="404.7" width="1" height="61.6"/>
<rect x="1267" y="361.2" width="1" height="69.0"/>
<rect x="1270" y="363.3" width="1" height="61.9"/>
<rect x="1273" y="378.4" width="1" height="59.8"/>
<rect x="1275" y="413.2" width="1" height="28.3"/>
<rect x="1278" y="397.1" width="1" height="38.6"/>
<rect x="1281" y="389.3" width="1" height="62.0"/>
<rect x="1283" y="432.8" width="1" height="13.3"/>
<rect x="1286" y="436.1" width="1" height="12.1"/>
<rect x="1289" y="442.4" width="1" height="18.3"/>
<rect x="1291" y="446.5" width="1" height="22.9"/>
<rect x="1294" y="445.0" width="1" height="12.5"/>
<rect x="1296" y="442.6" width="1" height="12.9"/>
<rect x="1299" y="444.0" width="1" height="10.4"/>
<rect x="1302" y="444.4" width="1" height="10.0"/>
<rect x="1304" y="445.7" width="1" height="9.8"/>
<rect x="1307" y="437.2" width="1" height="36.0"/>
<rect x="1310" y="463.4" width="1" height="40.4"/>
<rect x="1312" y="476.7" width="1" height="23.9"/>
<rect x="1315" y="470.5" width="1" height="12.0"/>
</g>
<line x1="1" y1="698.5" x2="1318" y2="698.5" stroke="#3a3a3a" stroke-width="1" stroke-dasharray="2 1" shape-rendering="crispEdges"/>
<rect x="704.5" y="404.0" width="80.5" height="2" fill="#000" shape-rendering="crispEdges"/>
<path d="M793.0,405.0 L781.0,400.8 L784.0,405.0 L781.0,409.2 Z" fill="#000"/>
<rect x="762.5" y="370.0" width="141.5" height="2" fill="#000" shape-rendering="crispEdges"/>
<path d="M912.0,371.0 L900.0,366.8 L903.0,371.0 L900.0,375.2 Z" fill="#000"/>
<rect x="931.5" y="371.0" width="117.5" height="2" fill="#000" shape-rendering="crispEdges"/>
<path d="M1057.0,372.0 L1045.0,367.8 L1048.0,372.0 L1045.0,376.2 Z" fill="#000"/>
<rect x="753.5" y="281.0" width="328.5" height="2" fill="#000" shape-rendering="crispEdges"/>
<path d="M1090.0,282.0 L1078.0,277.8 L1081.0,282.0 L1078.0,286.2 Z" fill="#000"/>
<rect x="678.5" y="222.0" width="472.5" height="2" fill="#000" shape-rendering="crispEdges"/>
<path d="M1159.0,223.0 L1147.0,218.8 L1150.0,223.0 L1147.0,227.2 Z" fill="#000"/>
<circle cx="731.0" cy="403.5" r="12.8" fill="#ffe600" stroke="#000" stroke-width="2.2"/>
<path d="M726.8,400.1 l1.6,0 q1.3,-0.5 1.9,-1.8 l2.6,0 l0,11.6 l-2.8,0 l0,-8.5 l-3.3,0 Z" fill="#000"/>
<circle cx="831.0" cy="370.8" r="12.8" fill="#ffe600" stroke="#000" stroke-width="2.2"/>
<text x="831.0" y="376.6" font-size="16px" font-weight="bold" text-anchor="middle" fill="#000">2</text>
<circle cx="842.0" cy="283.5" r="12.8" fill="#ffe600" stroke="#000" stroke-width="2.2"/>
<text x="842.0" y="289.3" font-size="16px" font-weight="bold" text-anchor="middle" fill="#000">3</text>
<circle cx="923.0" cy="224.7" r="12.8" fill="#ffe600" stroke="#000" stroke-width="2.2"/>
<text x="923.0" y="230.5" font-size="16px" font-weight="bold" text-anchor="middle" fill="#000">4</text>
<g shape-rendering="crispEdges">
</g><rect x="1317.9" y="27" width="1.25" height="858" fill="#3a4050"/><rect x="1" y="883.6" width="1318.5" height="1.4" fill="#3a4050"/><g shape-rendering="crispEdges">
<rect x="1319" y="39" width="6" height="1" fill="#222"/>
<rect x="1319" y="87" width="6" height="1" fill="#222"/>
<rect x="1319" y="135" width="6" height="1" fill="#222"/>
<rect x="1319" y="184" width="6" height="1" fill="#222"/>
<rect x="1319" y="232" width="6" height="1" fill="#222"/>
<rect x="1319" y="280" width="6" height="1" fill="#222"/>
<rect x="1319" y="328" width="6" height="1" fill="#222"/>
<rect x="1319" y="377" width="6" height="1" fill="#222"/>
<rect x="1319" y="425" width="6" height="1" fill="#222"/>
<rect x="1319" y="473" width="6" height="1" fill="#222"/>
<rect x="1319" y="521" width="6" height="1" fill="#222"/>
<rect x="1319" y="569" width="6" height="1" fill="#222"/>
<rect x="1319" y="618" width="6" height="1" fill="#222"/>
<rect x="1319" y="666" width="6" height="1" fill="#222"/>
<rect x="1319" y="714" width="6" height="1" fill="#222"/>
<rect x="1319" y="762" width="6" height="1" fill="#222"/>
<rect x="1319" y="811" width="6" height="1" fill="#222"/>
<rect x="1319" y="859" width="6" height="1" fill="#222"/>
<rect x="25" y="885" width="1" height="5" fill="#222"/>
<rect x="107" y="885" width="1" height="5" fill="#222"/>
<rect x="189" y="885" width="1" height="5" fill="#222"/>
<rect x="271" y="885" width="1" height="5" fill="#222"/>
<rect x="354" y="885" width="1" height="5" fill="#222"/>
<rect x="436" y="885" width="1" height="5" fill="#222"/>
<rect x="518" y="885" width="1" height="5" fill="#222"/>
<rect x="601" y="885" width="1" height="5" fill="#222"/>
<rect x="683" y="885" width="1" height="5" fill="#222"/>
<rect x="765" y="885" width="1" height="5" fill="#222"/>
<rect x="848" y="885" width="1" height="5" fill="#222"/>
<rect x="930" y="885" width="1" height="5" fill="#222"/>
<rect x="1012" y="885" width="1" height="5" fill="#222"/>
<rect x="1094" y="885" width="1" height="5" fill="#222"/>
<rect x="1177" y="885" width="1" height="5" fill="#222"/>
<rect x="1259" y="885" width="1" height="5" fill="#222"/>
</g>
<g font-size="12px" fill="#111">
<text x="1325.8" y="43.9" textLength="49.4" lengthAdjust="spacingAndGlyphs">21000.00</text>
<text x="1325.8" y="92.1" textLength="49.4" lengthAdjust="spacingAndGlyphs">20880.00</text>
<text x="1325.8" y="140.3" textLength="49.4" lengthAdjust="spacingAndGlyphs">20760.00</text>
<text x="1325.8" y="188.6" textLength="49.4" lengthAdjust="spacingAndGlyphs">20640.00</text>
<text x="1325.8" y="236.8" textLength="49.4" lengthAdjust="spacingAndGlyphs">20520.00</text>
<text x="1325.8" y="285.0" textLength="49.4" lengthAdjust="spacingAndGlyphs">20400.00</text>
<text x="1325.8" y="333.3" textLength="49.4" lengthAdjust="spacingAndGlyphs">20280.00</text>
<text x="1325.8" y="381.5" textLength="49.4" lengthAdjust="spacingAndGlyphs">20160.00</text>
<text x="1325.8" y="429.7" textLength="49.4" lengthAdjust="spacingAndGlyphs">20040.00</text>
<text x="1325.8" y="478.0" textLength="49.4" lengthAdjust="spacingAndGlyphs">19920.00</text>
<text x="1325.8" y="526.2" textLength="49.4" lengthAdjust="spacingAndGlyphs">19800.00</text>
<text x="1325.8" y="574.4" textLength="49.4" lengthAdjust="spacingAndGlyphs">19680.00</text>
<text x="1325.8" y="622.7" textLength="49.4" lengthAdjust="spacingAndGlyphs">19560.00</text>
<text x="1325.8" y="670.9" textLength="49.4" lengthAdjust="spacingAndGlyphs">19440.00</text>
<text x="1325.8" y="719.1" textLength="49.4" lengthAdjust="spacingAndGlyphs">19320.00</text>
<text x="1325.8" y="767.4" textLength="49.4" lengthAdjust="spacingAndGlyphs">19200.00</text>
<text x="1325.8" y="815.6" textLength="49.4" lengthAdjust="spacingAndGlyphs">19080.00</text>
<text x="1325.8" y="863.8" textLength="49.4" lengthAdjust="spacingAndGlyphs">18960.00</text>
<text x="3.9" y="901.8" textLength="28.3" lengthAdjust="spacingAndGlyphs">10:00</text>
<text x="85.9" y="901.8" textLength="28.3" lengthAdjust="spacingAndGlyphs">18:00</text>
<text x="167.9" y="901.8" textLength="28.3" lengthAdjust="spacingAndGlyphs">03:00</text>
<text x="249.9" y="901.8" textLength="28.3" lengthAdjust="spacingAndGlyphs">11:00</text>
<text x="332.9" y="901.8" textLength="28.3" lengthAdjust="spacingAndGlyphs">19:00</text>
<text x="414.9" y="901.8" textLength="28.3" lengthAdjust="spacingAndGlyphs">03:00</text>
<text x="496.9" y="901.8" textLength="28.3" lengthAdjust="spacingAndGlyphs">11:00</text>
<text x="579.9" y="901.8" textLength="28.3" lengthAdjust="spacingAndGlyphs">19:00</text>
<text x="661.9" y="901.8" textLength="28.3" lengthAdjust="spacingAndGlyphs">04:00</text>
<text x="743.9" y="901.8" textLength="28.3" lengthAdjust="spacingAndGlyphs">12:00</text>
<text x="826.9" y="901.8" textLength="28.3" lengthAdjust="spacingAndGlyphs">20:00</text>
<text x="908.9" y="901.8" textLength="28.3" lengthAdjust="spacingAndGlyphs">05:00</text>
<text x="990.9" y="901.8" textLength="28.3" lengthAdjust="spacingAndGlyphs">13:00</text>
<text x="1072.9" y="901.8" textLength="28.3" lengthAdjust="spacingAndGlyphs">21:00</text>
<text x="1155.9" y="901.8" textLength="28.3" lengthAdjust="spacingAndGlyphs">06:00</text>
<text x="1237.9" y="901.8" textLength="28.3" lengthAdjust="spacingAndGlyphs">14:00</text>
</g>
<path d="M1319.3,698.6 L1325.2,691 L1385.7,691 L1385.7,706.3 L1325.2,706.3 Z" fill="#000"/>
<text x="1325.8" y="702.7" font-size="11.6px" font-weight="bold" fill="#fff">19361.25</text>
<rect x="1273.5" y="29.5" width="20" height="20" fill="#fff" stroke="#000" stroke-width="1"/>
<path d="M1278.5,33.5 L1287,39.5 L1278.5,45.5 Z" fill="#000"/>
<rect x="1287" y="33.5" width="2" height="12" fill="#000"/>
<rect x="1374.5" y="29.5" width="12" height="12" fill="#fff" stroke="#000" stroke-width="1"/>
<text x="1377.2" y="38.6" font-size="9.3px" fill="#1a1a1a">F</text>
<g>
<!-- logo -->
<path d="M3.6,12 L7.6,5.6 L14.8,5.6 L18.6,12 L14.8,18.4 L7.6,18.4 Z" fill="#fff" stroke="#000" stroke-width="1.9" stroke-linejoin="round"/>
<path d="M4.4,9.6 L10.8,9.6 L7.4,15.4 Z" fill="#111"/>
<path d="M11.3,15.2 L13.5,11.3 L15.7,15.2 Z" fill="#000"/>
<!-- capsule -->
<rect x="28.5" y="4.5" width="7" height="13" rx="3" ry="3" fill="none" stroke="#111" stroke-width="1.2"/>
<text x="42.6" y="16" font-size="11.7px" fill="#222">#NQM5@CME</text>
<!-- search -->
<circle cx="131" cy="10" r="5.2" fill="none" stroke="#555" stroke-width="1.1"/>
<line x1="134.8" y1="13.8" x2="138" y2="17" stroke="#555" stroke-width="1.1"/>
<text x="147" y="15.6" font-size="11.7px" fill="#222">1H</text>
<path d="M168,9.8 L174.6,9.8 L171.3,13.6 Z" fill="#000"/>
<text x="182.2" y="15.6" font-size="11.7px" fill="#222" textLength="45.8" lengthAdjust="spacing">Qty: N/A</text>
<!-- monitor -->
<rect x="249.5" y="5" width="13" height="9" rx="1.5" fill="none" stroke="#555" stroke-width="1.1"/>
<line x1="252" y1="7.7" x2="253" y2="7.7" stroke="#555" stroke-width="1"/>
<line x1="254.5" y1="7.7" x2="260" y2="7.7" stroke="#555" stroke-width="1"/>
<line x1="252" y1="9.7" x2="253" y2="9.7" stroke="#555" stroke-width="1"/>
<line x1="254.5" y1="9.7" x2="260" y2="9.7" stroke="#555" stroke-width="1"/>
<line x1="252" y1="11.7" x2="253" y2="11.7" stroke="#555" stroke-width="1"/>
<line x1="254.5" y1="11.7" x2="260" y2="11.7" stroke="#555" stroke-width="1"/>
<line x1="256" y1="14" x2="256" y2="16.5" stroke="#555" stroke-width="1.2"/>
<line x1="252.5" y1="17" x2="259.5" y2="17" stroke="#555" stroke-width="1.1"/>
<path d="M270.5,9.8 L277.1,9.8 L273.8,13.6 Z" fill="#000"/>
<!-- pencil -->
<path d="M286,17.5 L287,13.8 L295.5,5.3 Q297,4 298.3,5.3 Q299.6,6.7 298.3,8 L289.8,16.5 Z" fill="none" stroke="#555" stroke-width="1.1" stroke-linejoin="round"/>
<path d="M306.6,9.8 L313.2,9.8 L309.9,13.6 Z" fill="#000"/>
<!-- zoom in -->
<circle cx="327" cy="10.5" r="5" fill="none" stroke="#555" stroke-width="1.1"/>
<line x1="330.7" y1="14.2" x2="334.5" y2="18" stroke="#555" stroke-width="1.1"/>
<line x1="324.5" y1="10.5" x2="329.5" y2="10.5" stroke="#555" stroke-width="1"/>
<line x1="327" y1="8" x2="327" y2="13" stroke="#555" stroke-width="1"/>
<!-- chart icon -->
<path d="M348,5.5 L348,17 L360.5,17" fill="none" stroke="#555" stroke-width="1.1"/>
<path d="M350.5,13.5 L353.5,9.5 L355.5,11.5 L359.5,7.5" fill="none" stroke="#555" stroke-width="1.1"/>
<text x="365.3" y="15.6" font-size="11.7px" fill="#222">Indicators</text>
<!-- crosshair circle -->
<circle cx="430.8" cy="11.3" r="6.6" fill="none" stroke="#555" stroke-width="1.1"/>
<line x1="430.8" y1="4.7" x2="430.8" y2="7.3" stroke="#555" stroke-width="1"/>
<line x1="430.8" y1="15.3" x2="430.8" y2="17.9" stroke="#555" stroke-width="1"/>
<line x1="424.2" y1="11.3" x2="426.8" y2="11.3" stroke="#555" stroke-width="1"/>
<line x1="434.8" y1="11.3" x2="437.4" y2="11.3" stroke="#555" stroke-width="1"/>
<path d="M445.7,9.8 L452.3,9.8 L449,13.6 Z" fill="#000"/>
<!-- windows -->
<rect x="460.5" y="8" width="10.5" height="8.5" rx="1.5" fill="#f4f4f7" stroke="#555" stroke-width="1.1"/>
<path d="M462.5,8 L462.5,6.8 Q462.5,5.5 464,5.5 L472,5.5 Q473.5,5.5 473.5,7 L473.5,13 Q473.5,14.3 472.2,14.3 L471,14.3" fill="none" stroke="#555" stroke-width="1.1"/>
<line x1="460.5" y1="10.3" x2="471" y2="10.3" stroke="#555" stroke-width="1.4"/>
<path d="M481.5,9.8 L488.1,9.8 L484.8,13.6 Z" fill="#000"/>
<text x="850" y="16.6" font-size="11.6px" fill="#222" text-anchor="middle">Chart</text>
<!-- right icons -->
<g stroke="#666" stroke-width="1.1" fill="none">
<path d="M1231.5,5 L1226,10.5 M1226,6.5 L1226,10.5 L1230,10.5"/>
<path d="M1218.5,17.3 L1224,11.8 M1224,15.8 L1224,11.8 L1220,11.8"/>
</g>
<path d="M1239.6,9 L1247,9 L1243.3,13 Z" fill="#000"/>
<g stroke="#666" stroke-width="1.1" fill="none">
<path d="M1254.2,8.8 Q1254.2,7.3 1255.7,7.3 L1257.8,7.3 L1259,5.5 L1263,5.5 L1264.2,7.3 L1266.3,7.3 Q1267.8,7.3 1267.8,8.8 L1267.8,15 Q1267.8,16.5 1266.3,16.5 L1255.7,16.5 Q1254.2,16.5 1254.2,15 Z"/>
<circle cx="1261" cy="11.8" r="1.8"/>
</g>
<path d="M1275.6,9 L1283,9 L1279.3,13 Z" fill="#000"/>
<g stroke="#999" stroke-width="1.1" fill="none">
<path d="M1290.5,8 L1290.5,4.8 L1293.7,4.8 M1290.5,4.8 L1295,9.3"/>
<path d="M1303.7,8 L1303.7,4.8 L1300.5,4.8 M1303.7,4.8 L1299.2,9.3"/>
<path d="M1290.5,14.2 L1290.5,17.4 L1293.7,17.4 M1290.5,17.4 L1295,12.9"/>
<path d="M1303.7,14.2 L1303.7,17.4 L1300.5,17.4 M1303.7,17.4 L1299.2,12.9"/>
</g>
<g stroke="#666" stroke-width="1.1" fill="none">
<circle cx="1323" cy="11.2" r="2.6"/>
<path d="M1321.3,5 L1324.7,5 L1325.5,6.8 L1327.5,6.3 L1329.3,9.2 L1328,10.6 L1328,11.8 L1329.3,13.2 L1327.5,16.1 L1325.5,15.6 L1324.7,17.4 L1321.3,17.4 L1320.5,15.6 L1318.5,16.1 L1316.7,13.2 L1318,11.8 L1318,10.6 L1316.7,9.2 L1318.5,6.3 L1320.5,6.8 Z" stroke-linejoin="round"/>
</g>
<g stroke="#000" stroke-width="1.3" fill="none">
<path d="M1349.5,6.5 L1354,6.5 M1350.2,6.5 L1350.2,11 M1353.3,6.5 L1353.3,11 M1348.3,11.3 L1355.2,11.3 M1351.7,11.3 L1351.7,17"/>
<path d="M1373.8,7.6 L1382,15 M1382,7.6 L1373.8,15" stroke-width="1.4"/>
</g>
</g>

</svg>
</body></html>
